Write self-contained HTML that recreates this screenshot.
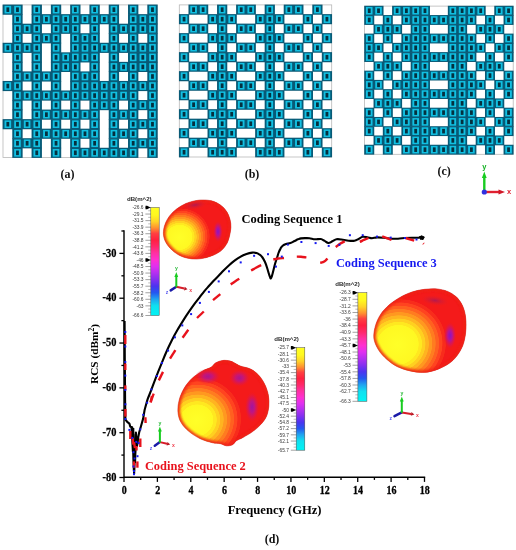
<!DOCTYPE html>
<html><head><meta charset="utf-8"><title>Figure</title>
<style>
html,body{margin:0;padding:0;background:#fff;}
body{width:516px;height:550px;overflow:hidden;}
svg{display:block;}
text{font-family:"Liberation Serif",serif;}
.pl{font-size:12px;fill:#111;}
.tk{font-size:11.5px;font-weight:bold;fill:#000;stroke:#000;stroke-width:0.3px;}
.axl{font-size:12.6px;font-weight:bold;fill:#000;}
.ayl{font-size:11.3px;font-weight:bold;fill:#000;}
.cs{font-size:12.45px;font-weight:bold;}
.cbl{font-family:"Liberation Sans",sans-serif;font-size:4.9px;fill:#3a3a3a;}
.cbt{font-family:"Liberation Sans",sans-serif;font-size:6.1px;fill:#2a2a2a;font-weight:bold;}
.tl{font-family:"Liberation Sans",sans-serif;font-size:5.1px;font-weight:bold;}
.tl2{font-family:"Liberation Sans",sans-serif;font-size:7.5px;font-weight:bold;}
</style></head><body>
<svg width="516" height="550" viewBox="0 0 516 550">
<defs>
<g id="cell"><rect x="-3.3" y="-3.8" width="6.6" height="7.6" fill="#12c0e2"/><rect x="-1.4" y="-2.3" width="2.8" height="4.6" fill="#04303f"/></g>
<linearGradient id="cb" x1="0" y1="0" x2="0" y2="1">
<stop offset="0" stop-color="#ffff20"/>
<stop offset="0.07" stop-color="#fff820"/>
<stop offset="0.13" stop-color="#ffd428"/>
<stop offset="0.19" stop-color="#ff9030"/>
<stop offset="0.24" stop-color="#ff4040"/>
<stop offset="0.3" stop-color="#ff2040"/>
<stop offset="0.36" stop-color="#ff2868"/>
<stop offset="0.42" stop-color="#ff30a0"/>
<stop offset="0.485" stop-color="#ff30d0"/>
<stop offset="0.546" stop-color="#e030f0"/>
<stop offset="0.606" stop-color="#b430f0"/>
<stop offset="0.667" stop-color="#8430f0"/>
<stop offset="0.728" stop-color="#4c34f0"/>
<stop offset="0.789" stop-color="#2458f0"/>
<stop offset="0.849" stop-color="#20a4f0"/>
<stop offset="0.91" stop-color="#10e0f0"/>
<stop offset="1" stop-color="#00f4f4"/>
</linearGradient>
<radialGradient id="hot1" gradientUnits="userSpaceOnUse" cx="179" cy="237.5" r="31" gradientTransform="rotate(-20 179 237.5) translate(179 237.5) scale(1 0.93) translate(-179 -237.5)">
<stop offset="0" stop-color="#ffff28"/>
<stop offset="0.430" stop-color="#fff822"/>
<stop offset="0.440" stop-color="#ffe820"/>
<stop offset="0.498" stop-color="#ffe820"/>
<stop offset="0.510" stop-color="#ffd020"/>
<stop offset="0.568" stop-color="#ffd020"/>
<stop offset="0.580" stop-color="#ffb420"/>
<stop offset="0.638" stop-color="#ffb420"/>
<stop offset="0.650" stop-color="#ff9820"/>
<stop offset="0.708" stop-color="#ff9820"/>
<stop offset="0.720" stop-color="#ff7c20"/>
<stop offset="0.778" stop-color="#ff7c20"/>
<stop offset="0.790" stop-color="#ff6020"/>
<stop offset="0.848" stop-color="#ff6020"/>
<stop offset="0.860" stop-color="#ff4420"/>
<stop offset="0.918" stop-color="#ff4420"/>
<stop offset="0.930" stop-color="#f82c1c"/>
<stop offset="0.988" stop-color="#f82c1c"/>
<stop offset="1.000" stop-color="#f41a1a"/>
</radialGradient>
<radialGradient id="hot2" gradientUnits="userSpaceOnUse" cx="196.5" cy="420.5" r="45" gradientTransform="rotate(-20 196.5 420.5) translate(196.5 420.5) scale(1 0.94) translate(-196.5 -420.5)">
<stop offset="0" stop-color="#ffff28"/>
<stop offset="0.370" stop-color="#fff822"/>
<stop offset="0.380" stop-color="#ffe820"/>
<stop offset="0.446" stop-color="#ffe820"/>
<stop offset="0.458" stop-color="#ffd020"/>
<stop offset="0.523" stop-color="#ffd020"/>
<stop offset="0.535" stop-color="#ffb420"/>
<stop offset="0.601" stop-color="#ffb420"/>
<stop offset="0.613" stop-color="#ff9820"/>
<stop offset="0.678" stop-color="#ff9820"/>
<stop offset="0.690" stop-color="#ff7c20"/>
<stop offset="0.755" stop-color="#ff7c20"/>
<stop offset="0.768" stop-color="#ff6020"/>
<stop offset="0.833" stop-color="#ff6020"/>
<stop offset="0.845" stop-color="#ff4420"/>
<stop offset="0.910" stop-color="#ff4420"/>
<stop offset="0.922" stop-color="#f82c1c"/>
<stop offset="0.988" stop-color="#f82c1c"/>
<stop offset="1.000" stop-color="#f41a1a"/>
</radialGradient>
<radialGradient id="hot3" gradientUnits="userSpaceOnUse" cx="397.5" cy="345" r="49" gradientTransform="rotate(-20 397.5 345) translate(397.5 345) scale(1 0.93) translate(-397.5 -345)">
<stop offset="0" stop-color="#ffff28"/>
<stop offset="0.430" stop-color="#fff822"/>
<stop offset="0.440" stop-color="#ffe820"/>
<stop offset="0.498" stop-color="#ffe820"/>
<stop offset="0.510" stop-color="#ffd020"/>
<stop offset="0.568" stop-color="#ffd020"/>
<stop offset="0.580" stop-color="#ffb420"/>
<stop offset="0.638" stop-color="#ffb420"/>
<stop offset="0.650" stop-color="#ff9820"/>
<stop offset="0.708" stop-color="#ff9820"/>
<stop offset="0.720" stop-color="#ff7c20"/>
<stop offset="0.778" stop-color="#ff7c20"/>
<stop offset="0.790" stop-color="#ff6020"/>
<stop offset="0.848" stop-color="#ff6020"/>
<stop offset="0.860" stop-color="#ff4420"/>
<stop offset="0.918" stop-color="#ff4420"/>
<stop offset="0.930" stop-color="#f82c1c"/>
<stop offset="0.988" stop-color="#f82c1c"/>
<stop offset="1.000" stop-color="#f41a1a"/>
</radialGradient>
<radialGradient id="dimple" cx="0.5" cy="0.5" r="0.5">
<stop offset="0" stop-color="#8c14c0"/>
<stop offset="0.35" stop-color="#b4149a"/>
<stop offset="0.7" stop-color="#dc1650" stop-opacity="0.7"/>
<stop offset="1" stop-color="#f41a1a" stop-opacity="0"/>
</radialGradient>
<radialGradient id="shade" cx="0.5" cy="0.5" r="0.5">
<stop offset="0" stop-color="#a01860" stop-opacity="0.75"/>
<stop offset="1" stop-color="#d82030" stop-opacity="0"/>
</radialGradient>
<filter id="bl" x="-10%" y="-10%" width="120%" height="120%"><feGaussianBlur stdDeviation="1.3"/></filter>
</defs>
<rect x="3.00" y="4.90" width="154.30" height="152.70" fill="#fff" stroke="#b8b8b8" stroke-width="0.8"/>
<rect x="2.65" y="4.60" width="19.99" height="10.14" fill="#085a76"/>
<rect x="31.58" y="4.60" width="10.34" height="10.14" fill="#085a76"/>
<rect x="50.87" y="4.60" width="10.34" height="10.14" fill="#085a76"/>
<rect x="70.16" y="4.60" width="10.34" height="10.14" fill="#085a76"/>
<rect x="89.44" y="4.60" width="10.34" height="10.14" fill="#085a76"/>
<rect x="108.73" y="4.60" width="10.34" height="10.14" fill="#085a76"/>
<rect x="128.02" y="4.60" width="10.34" height="10.14" fill="#085a76"/>
<rect x="147.31" y="4.60" width="10.34" height="10.14" fill="#085a76"/>
<rect x="12.29" y="14.14" width="10.34" height="10.14" fill="#085a76"/>
<rect x="31.58" y="14.14" width="87.49" height="10.14" fill="#085a76"/>
<rect x="128.02" y="14.14" width="29.63" height="10.14" fill="#085a76"/>
<rect x="12.29" y="23.69" width="29.63" height="10.14" fill="#085a76"/>
<rect x="50.87" y="23.69" width="29.63" height="10.14" fill="#085a76"/>
<rect x="89.44" y="23.69" width="10.34" height="10.14" fill="#085a76"/>
<rect x="108.73" y="23.69" width="48.92" height="10.14" fill="#085a76"/>
<rect x="12.29" y="33.23" width="10.34" height="10.14" fill="#085a76"/>
<rect x="31.58" y="33.23" width="29.63" height="10.14" fill="#085a76"/>
<rect x="70.16" y="33.23" width="29.63" height="10.14" fill="#085a76"/>
<rect x="108.73" y="33.23" width="10.34" height="10.14" fill="#085a76"/>
<rect x="128.02" y="33.23" width="10.34" height="10.14" fill="#085a76"/>
<rect x="147.31" y="33.23" width="10.34" height="10.14" fill="#085a76"/>
<rect x="2.65" y="42.77" width="39.28" height="10.14" fill="#085a76"/>
<rect x="50.87" y="42.77" width="10.34" height="10.14" fill="#085a76"/>
<rect x="70.16" y="42.77" width="87.49" height="10.14" fill="#085a76"/>
<rect x="12.29" y="52.32" width="10.34" height="10.14" fill="#085a76"/>
<rect x="31.58" y="52.32" width="10.34" height="10.14" fill="#085a76"/>
<rect x="50.87" y="52.32" width="48.92" height="10.14" fill="#085a76"/>
<rect x="108.73" y="52.32" width="10.34" height="10.14" fill="#085a76"/>
<rect x="128.02" y="52.32" width="29.63" height="10.14" fill="#085a76"/>
<rect x="12.29" y="61.86" width="10.34" height="10.14" fill="#085a76"/>
<rect x="31.58" y="61.86" width="10.34" height="10.14" fill="#085a76"/>
<rect x="50.87" y="61.86" width="29.63" height="10.14" fill="#085a76"/>
<rect x="89.44" y="61.86" width="10.34" height="10.14" fill="#085a76"/>
<rect x="108.73" y="61.86" width="48.92" height="10.14" fill="#085a76"/>
<rect x="12.29" y="71.41" width="48.92" height="10.14" fill="#085a76"/>
<rect x="70.16" y="71.41" width="29.63" height="10.14" fill="#085a76"/>
<rect x="108.73" y="71.41" width="10.34" height="10.14" fill="#085a76"/>
<rect x="128.02" y="71.41" width="10.34" height="10.14" fill="#085a76"/>
<rect x="147.31" y="71.41" width="10.34" height="10.14" fill="#085a76"/>
<rect x="2.65" y="80.95" width="19.99" height="10.14" fill="#085a76"/>
<rect x="31.58" y="80.95" width="10.34" height="10.14" fill="#085a76"/>
<rect x="50.87" y="80.95" width="10.34" height="10.14" fill="#085a76"/>
<rect x="70.16" y="80.95" width="87.49" height="10.14" fill="#085a76"/>
<rect x="12.29" y="90.49" width="126.07" height="10.14" fill="#085a76"/>
<rect x="147.31" y="90.49" width="10.34" height="10.14" fill="#085a76"/>
<rect x="12.29" y="100.04" width="10.34" height="10.14" fill="#085a76"/>
<rect x="31.58" y="100.04" width="10.34" height="10.14" fill="#085a76"/>
<rect x="50.87" y="100.04" width="10.34" height="10.14" fill="#085a76"/>
<rect x="70.16" y="100.04" width="10.34" height="10.14" fill="#085a76"/>
<rect x="89.44" y="100.04" width="29.63" height="10.14" fill="#085a76"/>
<rect x="128.02" y="100.04" width="29.63" height="10.14" fill="#085a76"/>
<rect x="12.29" y="109.58" width="10.34" height="10.14" fill="#085a76"/>
<rect x="31.58" y="109.58" width="68.21" height="10.14" fill="#085a76"/>
<rect x="108.73" y="109.58" width="29.63" height="10.14" fill="#085a76"/>
<rect x="147.31" y="109.58" width="10.34" height="10.14" fill="#085a76"/>
<rect x="2.65" y="119.12" width="39.28" height="10.14" fill="#085a76"/>
<rect x="50.87" y="119.12" width="10.34" height="10.14" fill="#085a76"/>
<rect x="70.16" y="119.12" width="10.34" height="10.14" fill="#085a76"/>
<rect x="89.44" y="119.12" width="10.34" height="10.14" fill="#085a76"/>
<rect x="108.73" y="119.12" width="10.34" height="10.14" fill="#085a76"/>
<rect x="128.02" y="119.12" width="29.63" height="10.14" fill="#085a76"/>
<rect x="12.29" y="128.67" width="10.34" height="10.14" fill="#085a76"/>
<rect x="31.58" y="128.67" width="68.21" height="10.14" fill="#085a76"/>
<rect x="108.73" y="128.67" width="29.63" height="10.14" fill="#085a76"/>
<rect x="147.31" y="128.67" width="10.34" height="10.14" fill="#085a76"/>
<rect x="12.29" y="138.21" width="29.63" height="10.14" fill="#085a76"/>
<rect x="50.87" y="138.21" width="10.34" height="10.14" fill="#085a76"/>
<rect x="70.16" y="138.21" width="10.34" height="10.14" fill="#085a76"/>
<rect x="89.44" y="138.21" width="10.34" height="10.14" fill="#085a76"/>
<rect x="108.73" y="138.21" width="10.34" height="10.14" fill="#085a76"/>
<rect x="128.02" y="138.21" width="29.63" height="10.14" fill="#085a76"/>
<rect x="12.29" y="147.76" width="10.34" height="10.14" fill="#085a76"/>
<rect x="31.58" y="147.76" width="10.34" height="10.14" fill="#085a76"/>
<rect x="50.87" y="147.76" width="10.34" height="10.14" fill="#085a76"/>
<rect x="70.16" y="147.76" width="68.21" height="10.14" fill="#085a76"/>
<rect x="147.31" y="147.76" width="10.34" height="10.14" fill="#085a76"/>
<use href="#cell" x="7.82" y="9.67"/>
<use href="#cell" x="17.47" y="9.67"/>
<use href="#cell" x="36.75" y="9.67"/>
<use href="#cell" x="56.04" y="9.67"/>
<use href="#cell" x="75.33" y="9.67"/>
<use href="#cell" x="94.62" y="9.67"/>
<use href="#cell" x="113.90" y="9.67"/>
<use href="#cell" x="133.19" y="9.67"/>
<use href="#cell" x="152.48" y="9.67"/>
<use href="#cell" x="17.47" y="19.22"/>
<use href="#cell" x="36.75" y="19.22"/>
<use href="#cell" x="46.40" y="19.22"/>
<use href="#cell" x="56.04" y="19.22"/>
<use href="#cell" x="65.68" y="19.22"/>
<use href="#cell" x="75.33" y="19.22"/>
<use href="#cell" x="84.97" y="19.22"/>
<use href="#cell" x="94.62" y="19.22"/>
<use href="#cell" x="104.26" y="19.22"/>
<use href="#cell" x="113.90" y="19.22"/>
<use href="#cell" x="133.19" y="19.22"/>
<use href="#cell" x="142.83" y="19.22"/>
<use href="#cell" x="152.48" y="19.22"/>
<use href="#cell" x="17.47" y="28.76"/>
<use href="#cell" x="27.11" y="28.76"/>
<use href="#cell" x="36.75" y="28.76"/>
<use href="#cell" x="56.04" y="28.76"/>
<use href="#cell" x="65.68" y="28.76"/>
<use href="#cell" x="75.33" y="28.76"/>
<use href="#cell" x="94.62" y="28.76"/>
<use href="#cell" x="113.90" y="28.76"/>
<use href="#cell" x="123.55" y="28.76"/>
<use href="#cell" x="133.19" y="28.76"/>
<use href="#cell" x="142.83" y="28.76"/>
<use href="#cell" x="152.48" y="28.76"/>
<use href="#cell" x="17.47" y="38.30"/>
<use href="#cell" x="36.75" y="38.30"/>
<use href="#cell" x="46.40" y="38.30"/>
<use href="#cell" x="56.04" y="38.30"/>
<use href="#cell" x="75.33" y="38.30"/>
<use href="#cell" x="84.97" y="38.30"/>
<use href="#cell" x="94.62" y="38.30"/>
<use href="#cell" x="113.90" y="38.30"/>
<use href="#cell" x="133.19" y="38.30"/>
<use href="#cell" x="152.48" y="38.30"/>
<use href="#cell" x="7.82" y="47.85"/>
<use href="#cell" x="17.47" y="47.85"/>
<use href="#cell" x="27.11" y="47.85"/>
<use href="#cell" x="36.75" y="47.85"/>
<use href="#cell" x="56.04" y="47.85"/>
<use href="#cell" x="75.33" y="47.85"/>
<use href="#cell" x="84.97" y="47.85"/>
<use href="#cell" x="94.62" y="47.85"/>
<use href="#cell" x="104.26" y="47.85"/>
<use href="#cell" x="113.90" y="47.85"/>
<use href="#cell" x="123.55" y="47.85"/>
<use href="#cell" x="133.19" y="47.85"/>
<use href="#cell" x="142.83" y="47.85"/>
<use href="#cell" x="152.48" y="47.85"/>
<use href="#cell" x="17.47" y="57.39"/>
<use href="#cell" x="36.75" y="57.39"/>
<use href="#cell" x="56.04" y="57.39"/>
<use href="#cell" x="65.68" y="57.39"/>
<use href="#cell" x="75.33" y="57.39"/>
<use href="#cell" x="84.97" y="57.39"/>
<use href="#cell" x="94.62" y="57.39"/>
<use href="#cell" x="113.90" y="57.39"/>
<use href="#cell" x="133.19" y="57.39"/>
<use href="#cell" x="142.83" y="57.39"/>
<use href="#cell" x="152.48" y="57.39"/>
<use href="#cell" x="17.47" y="66.93"/>
<use href="#cell" x="36.75" y="66.93"/>
<use href="#cell" x="56.04" y="66.93"/>
<use href="#cell" x="65.68" y="66.93"/>
<use href="#cell" x="75.33" y="66.93"/>
<use href="#cell" x="94.62" y="66.93"/>
<use href="#cell" x="113.90" y="66.93"/>
<use href="#cell" x="123.55" y="66.93"/>
<use href="#cell" x="133.19" y="66.93"/>
<use href="#cell" x="142.83" y="66.93"/>
<use href="#cell" x="152.48" y="66.93"/>
<use href="#cell" x="17.47" y="76.48"/>
<use href="#cell" x="27.11" y="76.48"/>
<use href="#cell" x="36.75" y="76.48"/>
<use href="#cell" x="46.40" y="76.48"/>
<use href="#cell" x="56.04" y="76.48"/>
<use href="#cell" x="75.33" y="76.48"/>
<use href="#cell" x="84.97" y="76.48"/>
<use href="#cell" x="94.62" y="76.48"/>
<use href="#cell" x="113.90" y="76.48"/>
<use href="#cell" x="133.19" y="76.48"/>
<use href="#cell" x="152.48" y="76.48"/>
<use href="#cell" x="7.82" y="86.02"/>
<use href="#cell" x="17.47" y="86.02"/>
<use href="#cell" x="36.75" y="86.02"/>
<use href="#cell" x="56.04" y="86.02"/>
<use href="#cell" x="75.33" y="86.02"/>
<use href="#cell" x="84.97" y="86.02"/>
<use href="#cell" x="94.62" y="86.02"/>
<use href="#cell" x="104.26" y="86.02"/>
<use href="#cell" x="113.90" y="86.02"/>
<use href="#cell" x="123.55" y="86.02"/>
<use href="#cell" x="133.19" y="86.02"/>
<use href="#cell" x="142.83" y="86.02"/>
<use href="#cell" x="152.48" y="86.02"/>
<use href="#cell" x="17.47" y="95.57"/>
<use href="#cell" x="27.11" y="95.57"/>
<use href="#cell" x="36.75" y="95.57"/>
<use href="#cell" x="46.40" y="95.57"/>
<use href="#cell" x="56.04" y="95.57"/>
<use href="#cell" x="65.68" y="95.57"/>
<use href="#cell" x="75.33" y="95.57"/>
<use href="#cell" x="84.97" y="95.57"/>
<use href="#cell" x="94.62" y="95.57"/>
<use href="#cell" x="104.26" y="95.57"/>
<use href="#cell" x="113.90" y="95.57"/>
<use href="#cell" x="123.55" y="95.57"/>
<use href="#cell" x="133.19" y="95.57"/>
<use href="#cell" x="152.48" y="95.57"/>
<use href="#cell" x="17.47" y="105.11"/>
<use href="#cell" x="36.75" y="105.11"/>
<use href="#cell" x="56.04" y="105.11"/>
<use href="#cell" x="75.33" y="105.11"/>
<use href="#cell" x="94.62" y="105.11"/>
<use href="#cell" x="104.26" y="105.11"/>
<use href="#cell" x="113.90" y="105.11"/>
<use href="#cell" x="133.19" y="105.11"/>
<use href="#cell" x="142.83" y="105.11"/>
<use href="#cell" x="152.48" y="105.11"/>
<use href="#cell" x="17.47" y="114.65"/>
<use href="#cell" x="36.75" y="114.65"/>
<use href="#cell" x="46.40" y="114.65"/>
<use href="#cell" x="56.04" y="114.65"/>
<use href="#cell" x="65.68" y="114.65"/>
<use href="#cell" x="75.33" y="114.65"/>
<use href="#cell" x="84.97" y="114.65"/>
<use href="#cell" x="94.62" y="114.65"/>
<use href="#cell" x="113.90" y="114.65"/>
<use href="#cell" x="123.55" y="114.65"/>
<use href="#cell" x="133.19" y="114.65"/>
<use href="#cell" x="152.48" y="114.65"/>
<use href="#cell" x="7.82" y="124.20"/>
<use href="#cell" x="17.47" y="124.20"/>
<use href="#cell" x="27.11" y="124.20"/>
<use href="#cell" x="36.75" y="124.20"/>
<use href="#cell" x="56.04" y="124.20"/>
<use href="#cell" x="75.33" y="124.20"/>
<use href="#cell" x="94.62" y="124.20"/>
<use href="#cell" x="113.90" y="124.20"/>
<use href="#cell" x="133.19" y="124.20"/>
<use href="#cell" x="142.83" y="124.20"/>
<use href="#cell" x="152.48" y="124.20"/>
<use href="#cell" x="17.47" y="133.74"/>
<use href="#cell" x="36.75" y="133.74"/>
<use href="#cell" x="46.40" y="133.74"/>
<use href="#cell" x="56.04" y="133.74"/>
<use href="#cell" x="65.68" y="133.74"/>
<use href="#cell" x="75.33" y="133.74"/>
<use href="#cell" x="84.97" y="133.74"/>
<use href="#cell" x="94.62" y="133.74"/>
<use href="#cell" x="113.90" y="133.74"/>
<use href="#cell" x="123.55" y="133.74"/>
<use href="#cell" x="133.19" y="133.74"/>
<use href="#cell" x="152.48" y="133.74"/>
<use href="#cell" x="17.47" y="143.28"/>
<use href="#cell" x="27.11" y="143.28"/>
<use href="#cell" x="36.75" y="143.28"/>
<use href="#cell" x="56.04" y="143.28"/>
<use href="#cell" x="75.33" y="143.28"/>
<use href="#cell" x="94.62" y="143.28"/>
<use href="#cell" x="113.90" y="143.28"/>
<use href="#cell" x="133.19" y="143.28"/>
<use href="#cell" x="142.83" y="143.28"/>
<use href="#cell" x="152.48" y="143.28"/>
<use href="#cell" x="17.47" y="152.83"/>
<use href="#cell" x="36.75" y="152.83"/>
<use href="#cell" x="56.04" y="152.83"/>
<use href="#cell" x="75.33" y="152.83"/>
<use href="#cell" x="84.97" y="152.83"/>
<use href="#cell" x="94.62" y="152.83"/>
<use href="#cell" x="104.26" y="152.83"/>
<use href="#cell" x="113.90" y="152.83"/>
<use href="#cell" x="123.55" y="152.83"/>
<use href="#cell" x="133.19" y="152.83"/>
<use href="#cell" x="152.48" y="152.83"/>
<rect x="179.30" y="4.90" width="152.40" height="152.10" fill="#fff" stroke="#b8b8b8" stroke-width="0.8"/>
<rect x="188.48" y="4.60" width="19.75" height="10.11" fill="#085a76"/>
<rect x="217.05" y="4.60" width="10.22" height="10.11" fill="#085a76"/>
<rect x="236.10" y="4.60" width="19.75" height="10.11" fill="#085a76"/>
<rect x="264.67" y="4.60" width="10.22" height="10.11" fill="#085a76"/>
<rect x="283.72" y="4.60" width="19.75" height="10.11" fill="#085a76"/>
<rect x="312.30" y="4.60" width="10.22" height="10.11" fill="#085a76"/>
<rect x="178.95" y="14.11" width="10.22" height="10.11" fill="#085a76"/>
<rect x="207.53" y="14.11" width="29.27" height="10.11" fill="#085a76"/>
<rect x="255.15" y="14.11" width="29.27" height="10.11" fill="#085a76"/>
<rect x="302.77" y="14.11" width="10.22" height="10.11" fill="#085a76"/>
<rect x="321.82" y="14.11" width="10.22" height="10.11" fill="#085a76"/>
<rect x="188.48" y="23.61" width="19.75" height="10.11" fill="#085a76"/>
<rect x="217.05" y="23.61" width="10.22" height="10.11" fill="#085a76"/>
<rect x="236.10" y="23.61" width="19.75" height="10.11" fill="#085a76"/>
<rect x="264.67" y="23.61" width="10.22" height="10.11" fill="#085a76"/>
<rect x="283.72" y="23.61" width="19.75" height="10.11" fill="#085a76"/>
<rect x="312.30" y="23.61" width="10.22" height="10.11" fill="#085a76"/>
<rect x="178.95" y="33.12" width="10.22" height="10.11" fill="#085a76"/>
<rect x="207.53" y="33.12" width="29.27" height="10.11" fill="#085a76"/>
<rect x="255.15" y="33.12" width="29.27" height="10.11" fill="#085a76"/>
<rect x="302.77" y="33.12" width="10.22" height="10.11" fill="#085a76"/>
<rect x="321.82" y="33.12" width="10.22" height="10.11" fill="#085a76"/>
<rect x="188.48" y="42.62" width="19.75" height="10.11" fill="#085a76"/>
<rect x="217.05" y="42.62" width="10.22" height="10.11" fill="#085a76"/>
<rect x="236.10" y="42.62" width="19.75" height="10.11" fill="#085a76"/>
<rect x="264.67" y="42.62" width="10.22" height="10.11" fill="#085a76"/>
<rect x="283.72" y="42.62" width="19.75" height="10.11" fill="#085a76"/>
<rect x="312.30" y="42.62" width="10.22" height="10.11" fill="#085a76"/>
<rect x="178.95" y="52.13" width="10.22" height="10.11" fill="#085a76"/>
<rect x="207.53" y="52.13" width="29.27" height="10.11" fill="#085a76"/>
<rect x="255.15" y="52.13" width="29.27" height="10.11" fill="#085a76"/>
<rect x="302.77" y="52.13" width="10.22" height="10.11" fill="#085a76"/>
<rect x="321.82" y="52.13" width="10.22" height="10.11" fill="#085a76"/>
<rect x="188.48" y="61.64" width="19.75" height="10.11" fill="#085a76"/>
<rect x="217.05" y="61.64" width="10.22" height="10.11" fill="#085a76"/>
<rect x="236.10" y="61.64" width="19.75" height="10.11" fill="#085a76"/>
<rect x="264.67" y="61.64" width="10.22" height="10.11" fill="#085a76"/>
<rect x="283.72" y="61.64" width="19.75" height="10.11" fill="#085a76"/>
<rect x="312.30" y="61.64" width="10.22" height="10.11" fill="#085a76"/>
<rect x="178.95" y="71.14" width="10.22" height="10.11" fill="#085a76"/>
<rect x="207.53" y="71.14" width="29.27" height="10.11" fill="#085a76"/>
<rect x="255.15" y="71.14" width="29.27" height="10.11" fill="#085a76"/>
<rect x="302.77" y="71.14" width="10.22" height="10.11" fill="#085a76"/>
<rect x="321.82" y="71.14" width="10.22" height="10.11" fill="#085a76"/>
<rect x="188.48" y="80.65" width="19.75" height="10.11" fill="#085a76"/>
<rect x="217.05" y="80.65" width="10.22" height="10.11" fill="#085a76"/>
<rect x="236.10" y="80.65" width="19.75" height="10.11" fill="#085a76"/>
<rect x="264.67" y="80.65" width="10.22" height="10.11" fill="#085a76"/>
<rect x="283.72" y="80.65" width="19.75" height="10.11" fill="#085a76"/>
<rect x="312.30" y="80.65" width="10.22" height="10.11" fill="#085a76"/>
<rect x="178.95" y="90.16" width="10.22" height="10.11" fill="#085a76"/>
<rect x="207.53" y="90.16" width="29.27" height="10.11" fill="#085a76"/>
<rect x="255.15" y="90.16" width="29.27" height="10.11" fill="#085a76"/>
<rect x="302.77" y="90.16" width="10.22" height="10.11" fill="#085a76"/>
<rect x="321.82" y="90.16" width="10.22" height="10.11" fill="#085a76"/>
<rect x="188.48" y="99.66" width="19.75" height="10.11" fill="#085a76"/>
<rect x="217.05" y="99.66" width="10.22" height="10.11" fill="#085a76"/>
<rect x="236.10" y="99.66" width="19.75" height="10.11" fill="#085a76"/>
<rect x="264.67" y="99.66" width="10.22" height="10.11" fill="#085a76"/>
<rect x="283.72" y="99.66" width="19.75" height="10.11" fill="#085a76"/>
<rect x="312.30" y="99.66" width="10.22" height="10.11" fill="#085a76"/>
<rect x="178.95" y="109.17" width="10.22" height="10.11" fill="#085a76"/>
<rect x="207.53" y="109.17" width="29.27" height="10.11" fill="#085a76"/>
<rect x="255.15" y="109.17" width="29.27" height="10.11" fill="#085a76"/>
<rect x="302.77" y="109.17" width="10.22" height="10.11" fill="#085a76"/>
<rect x="321.82" y="109.17" width="10.22" height="10.11" fill="#085a76"/>
<rect x="188.48" y="118.67" width="19.75" height="10.11" fill="#085a76"/>
<rect x="217.05" y="118.67" width="10.22" height="10.11" fill="#085a76"/>
<rect x="236.10" y="118.67" width="19.75" height="10.11" fill="#085a76"/>
<rect x="264.67" y="118.67" width="10.22" height="10.11" fill="#085a76"/>
<rect x="283.72" y="118.67" width="19.75" height="10.11" fill="#085a76"/>
<rect x="312.30" y="118.67" width="10.22" height="10.11" fill="#085a76"/>
<rect x="178.95" y="128.18" width="10.22" height="10.11" fill="#085a76"/>
<rect x="207.53" y="128.18" width="29.27" height="10.11" fill="#085a76"/>
<rect x="255.15" y="128.18" width="29.27" height="10.11" fill="#085a76"/>
<rect x="302.77" y="128.18" width="10.22" height="10.11" fill="#085a76"/>
<rect x="321.82" y="128.18" width="10.22" height="10.11" fill="#085a76"/>
<rect x="188.48" y="137.69" width="19.75" height="10.11" fill="#085a76"/>
<rect x="217.05" y="137.69" width="10.22" height="10.11" fill="#085a76"/>
<rect x="236.10" y="137.69" width="19.75" height="10.11" fill="#085a76"/>
<rect x="264.67" y="137.69" width="10.22" height="10.11" fill="#085a76"/>
<rect x="283.72" y="137.69" width="19.75" height="10.11" fill="#085a76"/>
<rect x="312.30" y="137.69" width="10.22" height="10.11" fill="#085a76"/>
<rect x="178.95" y="147.19" width="10.22" height="10.11" fill="#085a76"/>
<rect x="207.53" y="147.19" width="29.27" height="10.11" fill="#085a76"/>
<rect x="255.15" y="147.19" width="29.27" height="10.11" fill="#085a76"/>
<rect x="302.77" y="147.19" width="10.22" height="10.11" fill="#085a76"/>
<rect x="321.82" y="147.19" width="10.22" height="10.11" fill="#085a76"/>
<use href="#cell" x="193.59" y="9.65"/>
<use href="#cell" x="203.11" y="9.65"/>
<use href="#cell" x="222.16" y="9.65"/>
<use href="#cell" x="241.21" y="9.65"/>
<use href="#cell" x="250.74" y="9.65"/>
<use href="#cell" x="269.79" y="9.65"/>
<use href="#cell" x="288.84" y="9.65"/>
<use href="#cell" x="298.36" y="9.65"/>
<use href="#cell" x="317.41" y="9.65"/>
<use href="#cell" x="184.06" y="19.16"/>
<use href="#cell" x="212.64" y="19.16"/>
<use href="#cell" x="222.16" y="19.16"/>
<use href="#cell" x="231.69" y="19.16"/>
<use href="#cell" x="260.26" y="19.16"/>
<use href="#cell" x="269.79" y="19.16"/>
<use href="#cell" x="279.31" y="19.16"/>
<use href="#cell" x="307.89" y="19.16"/>
<use href="#cell" x="326.94" y="19.16"/>
<use href="#cell" x="193.59" y="28.67"/>
<use href="#cell" x="203.11" y="28.67"/>
<use href="#cell" x="222.16" y="28.67"/>
<use href="#cell" x="241.21" y="28.67"/>
<use href="#cell" x="250.74" y="28.67"/>
<use href="#cell" x="269.79" y="28.67"/>
<use href="#cell" x="288.84" y="28.67"/>
<use href="#cell" x="298.36" y="28.67"/>
<use href="#cell" x="317.41" y="28.67"/>
<use href="#cell" x="184.06" y="38.17"/>
<use href="#cell" x="212.64" y="38.17"/>
<use href="#cell" x="222.16" y="38.17"/>
<use href="#cell" x="231.69" y="38.17"/>
<use href="#cell" x="260.26" y="38.17"/>
<use href="#cell" x="269.79" y="38.17"/>
<use href="#cell" x="279.31" y="38.17"/>
<use href="#cell" x="307.89" y="38.17"/>
<use href="#cell" x="326.94" y="38.17"/>
<use href="#cell" x="193.59" y="47.68"/>
<use href="#cell" x="203.11" y="47.68"/>
<use href="#cell" x="222.16" y="47.68"/>
<use href="#cell" x="241.21" y="47.68"/>
<use href="#cell" x="250.74" y="47.68"/>
<use href="#cell" x="269.79" y="47.68"/>
<use href="#cell" x="288.84" y="47.68"/>
<use href="#cell" x="298.36" y="47.68"/>
<use href="#cell" x="317.41" y="47.68"/>
<use href="#cell" x="184.06" y="57.18"/>
<use href="#cell" x="212.64" y="57.18"/>
<use href="#cell" x="222.16" y="57.18"/>
<use href="#cell" x="231.69" y="57.18"/>
<use href="#cell" x="260.26" y="57.18"/>
<use href="#cell" x="269.79" y="57.18"/>
<use href="#cell" x="279.31" y="57.18"/>
<use href="#cell" x="307.89" y="57.18"/>
<use href="#cell" x="326.94" y="57.18"/>
<use href="#cell" x="193.59" y="66.69"/>
<use href="#cell" x="203.11" y="66.69"/>
<use href="#cell" x="222.16" y="66.69"/>
<use href="#cell" x="241.21" y="66.69"/>
<use href="#cell" x="250.74" y="66.69"/>
<use href="#cell" x="269.79" y="66.69"/>
<use href="#cell" x="288.84" y="66.69"/>
<use href="#cell" x="298.36" y="66.69"/>
<use href="#cell" x="317.41" y="66.69"/>
<use href="#cell" x="184.06" y="76.20"/>
<use href="#cell" x="212.64" y="76.20"/>
<use href="#cell" x="222.16" y="76.20"/>
<use href="#cell" x="231.69" y="76.20"/>
<use href="#cell" x="260.26" y="76.20"/>
<use href="#cell" x="269.79" y="76.20"/>
<use href="#cell" x="279.31" y="76.20"/>
<use href="#cell" x="307.89" y="76.20"/>
<use href="#cell" x="326.94" y="76.20"/>
<use href="#cell" x="193.59" y="85.70"/>
<use href="#cell" x="203.11" y="85.70"/>
<use href="#cell" x="222.16" y="85.70"/>
<use href="#cell" x="241.21" y="85.70"/>
<use href="#cell" x="250.74" y="85.70"/>
<use href="#cell" x="269.79" y="85.70"/>
<use href="#cell" x="288.84" y="85.70"/>
<use href="#cell" x="298.36" y="85.70"/>
<use href="#cell" x="317.41" y="85.70"/>
<use href="#cell" x="184.06" y="95.21"/>
<use href="#cell" x="212.64" y="95.21"/>
<use href="#cell" x="222.16" y="95.21"/>
<use href="#cell" x="231.69" y="95.21"/>
<use href="#cell" x="260.26" y="95.21"/>
<use href="#cell" x="269.79" y="95.21"/>
<use href="#cell" x="279.31" y="95.21"/>
<use href="#cell" x="307.89" y="95.21"/>
<use href="#cell" x="326.94" y="95.21"/>
<use href="#cell" x="193.59" y="104.72"/>
<use href="#cell" x="203.11" y="104.72"/>
<use href="#cell" x="222.16" y="104.72"/>
<use href="#cell" x="241.21" y="104.72"/>
<use href="#cell" x="250.74" y="104.72"/>
<use href="#cell" x="269.79" y="104.72"/>
<use href="#cell" x="288.84" y="104.72"/>
<use href="#cell" x="298.36" y="104.72"/>
<use href="#cell" x="317.41" y="104.72"/>
<use href="#cell" x="184.06" y="114.22"/>
<use href="#cell" x="212.64" y="114.22"/>
<use href="#cell" x="222.16" y="114.22"/>
<use href="#cell" x="231.69" y="114.22"/>
<use href="#cell" x="260.26" y="114.22"/>
<use href="#cell" x="269.79" y="114.22"/>
<use href="#cell" x="279.31" y="114.22"/>
<use href="#cell" x="307.89" y="114.22"/>
<use href="#cell" x="326.94" y="114.22"/>
<use href="#cell" x="193.59" y="123.73"/>
<use href="#cell" x="203.11" y="123.73"/>
<use href="#cell" x="222.16" y="123.73"/>
<use href="#cell" x="241.21" y="123.73"/>
<use href="#cell" x="250.74" y="123.73"/>
<use href="#cell" x="269.79" y="123.73"/>
<use href="#cell" x="288.84" y="123.73"/>
<use href="#cell" x="298.36" y="123.73"/>
<use href="#cell" x="317.41" y="123.73"/>
<use href="#cell" x="184.06" y="133.23"/>
<use href="#cell" x="212.64" y="133.23"/>
<use href="#cell" x="222.16" y="133.23"/>
<use href="#cell" x="231.69" y="133.23"/>
<use href="#cell" x="260.26" y="133.23"/>
<use href="#cell" x="269.79" y="133.23"/>
<use href="#cell" x="279.31" y="133.23"/>
<use href="#cell" x="307.89" y="133.23"/>
<use href="#cell" x="326.94" y="133.23"/>
<use href="#cell" x="193.59" y="142.74"/>
<use href="#cell" x="203.11" y="142.74"/>
<use href="#cell" x="222.16" y="142.74"/>
<use href="#cell" x="241.21" y="142.74"/>
<use href="#cell" x="250.74" y="142.74"/>
<use href="#cell" x="269.79" y="142.74"/>
<use href="#cell" x="288.84" y="142.74"/>
<use href="#cell" x="298.36" y="142.74"/>
<use href="#cell" x="317.41" y="142.74"/>
<use href="#cell" x="184.06" y="152.25"/>
<use href="#cell" x="212.64" y="152.25"/>
<use href="#cell" x="222.16" y="152.25"/>
<use href="#cell" x="231.69" y="152.25"/>
<use href="#cell" x="260.26" y="152.25"/>
<use href="#cell" x="269.79" y="152.25"/>
<use href="#cell" x="279.31" y="152.25"/>
<use href="#cell" x="307.89" y="152.25"/>
<use href="#cell" x="326.94" y="152.25"/>
<rect x="364.60" y="6.10" width="148.60" height="148.20" fill="#fff" stroke="#b8b8b8" stroke-width="0.8"/>
<rect x="364.25" y="5.80" width="19.28" height="9.86" fill="#085a76"/>
<rect x="392.11" y="5.80" width="37.85" height="9.86" fill="#085a76"/>
<rect x="447.84" y="5.80" width="37.85" height="9.86" fill="#085a76"/>
<rect x="494.28" y="5.80" width="19.28" height="9.86" fill="#085a76"/>
<rect x="364.25" y="15.06" width="9.99" height="9.86" fill="#085a76"/>
<rect x="382.82" y="15.06" width="9.99" height="9.86" fill="#085a76"/>
<rect x="401.40" y="15.06" width="75.00" height="9.86" fill="#085a76"/>
<rect x="484.99" y="15.06" width="9.99" height="9.86" fill="#085a76"/>
<rect x="503.56" y="15.06" width="9.99" height="9.86" fill="#085a76"/>
<rect x="373.54" y="24.32" width="28.56" height="9.86" fill="#085a76"/>
<rect x="410.69" y="24.32" width="19.28" height="9.86" fill="#085a76"/>
<rect x="447.84" y="24.32" width="19.28" height="9.86" fill="#085a76"/>
<rect x="475.70" y="24.32" width="28.56" height="9.86" fill="#085a76"/>
<rect x="364.25" y="33.59" width="9.99" height="9.86" fill="#085a76"/>
<rect x="382.82" y="33.59" width="9.99" height="9.86" fill="#085a76"/>
<rect x="401.40" y="33.59" width="75.00" height="9.86" fill="#085a76"/>
<rect x="484.99" y="33.59" width="9.99" height="9.86" fill="#085a76"/>
<rect x="503.56" y="33.59" width="9.99" height="9.86" fill="#085a76"/>
<rect x="364.25" y="42.85" width="19.28" height="9.86" fill="#085a76"/>
<rect x="392.11" y="42.85" width="37.85" height="9.86" fill="#085a76"/>
<rect x="447.84" y="42.85" width="37.85" height="9.86" fill="#085a76"/>
<rect x="494.28" y="42.85" width="19.28" height="9.86" fill="#085a76"/>
<rect x="364.25" y="52.11" width="9.99" height="9.86" fill="#085a76"/>
<rect x="382.82" y="52.11" width="9.99" height="9.86" fill="#085a76"/>
<rect x="401.40" y="52.11" width="75.00" height="9.86" fill="#085a76"/>
<rect x="484.99" y="52.11" width="9.99" height="9.86" fill="#085a76"/>
<rect x="503.56" y="52.11" width="9.99" height="9.86" fill="#085a76"/>
<rect x="373.54" y="61.38" width="28.56" height="9.86" fill="#085a76"/>
<rect x="410.69" y="61.38" width="19.28" height="9.86" fill="#085a76"/>
<rect x="447.84" y="61.38" width="19.28" height="9.86" fill="#085a76"/>
<rect x="475.70" y="61.38" width="28.56" height="9.86" fill="#085a76"/>
<rect x="364.25" y="70.64" width="9.99" height="9.86" fill="#085a76"/>
<rect x="382.82" y="70.64" width="9.99" height="9.86" fill="#085a76"/>
<rect x="401.40" y="70.64" width="75.00" height="9.86" fill="#085a76"/>
<rect x="484.99" y="70.64" width="9.99" height="9.86" fill="#085a76"/>
<rect x="503.56" y="70.64" width="9.99" height="9.86" fill="#085a76"/>
<rect x="364.25" y="79.90" width="19.28" height="9.86" fill="#085a76"/>
<rect x="392.11" y="79.90" width="37.85" height="9.86" fill="#085a76"/>
<rect x="447.84" y="79.90" width="37.85" height="9.86" fill="#085a76"/>
<rect x="494.28" y="79.90" width="19.28" height="9.86" fill="#085a76"/>
<rect x="364.25" y="89.16" width="9.99" height="9.86" fill="#085a76"/>
<rect x="382.82" y="89.16" width="9.99" height="9.86" fill="#085a76"/>
<rect x="401.40" y="89.16" width="75.00" height="9.86" fill="#085a76"/>
<rect x="484.99" y="89.16" width="9.99" height="9.86" fill="#085a76"/>
<rect x="503.56" y="89.16" width="9.99" height="9.86" fill="#085a76"/>
<rect x="373.54" y="98.43" width="28.56" height="9.86" fill="#085a76"/>
<rect x="410.69" y="98.43" width="19.28" height="9.86" fill="#085a76"/>
<rect x="447.84" y="98.43" width="19.28" height="9.86" fill="#085a76"/>
<rect x="475.70" y="98.43" width="28.56" height="9.86" fill="#085a76"/>
<rect x="364.25" y="107.69" width="9.99" height="9.86" fill="#085a76"/>
<rect x="382.82" y="107.69" width="9.99" height="9.86" fill="#085a76"/>
<rect x="401.40" y="107.69" width="75.00" height="9.86" fill="#085a76"/>
<rect x="484.99" y="107.69" width="9.99" height="9.86" fill="#085a76"/>
<rect x="503.56" y="107.69" width="9.99" height="9.86" fill="#085a76"/>
<rect x="364.25" y="116.95" width="19.28" height="9.86" fill="#085a76"/>
<rect x="392.11" y="116.95" width="37.85" height="9.86" fill="#085a76"/>
<rect x="447.84" y="116.95" width="37.85" height="9.86" fill="#085a76"/>
<rect x="494.28" y="116.95" width="19.28" height="9.86" fill="#085a76"/>
<rect x="364.25" y="126.21" width="9.99" height="9.86" fill="#085a76"/>
<rect x="382.82" y="126.21" width="9.99" height="9.86" fill="#085a76"/>
<rect x="401.40" y="126.21" width="75.00" height="9.86" fill="#085a76"/>
<rect x="484.99" y="126.21" width="9.99" height="9.86" fill="#085a76"/>
<rect x="503.56" y="126.21" width="9.99" height="9.86" fill="#085a76"/>
<rect x="373.54" y="135.47" width="28.56" height="9.86" fill="#085a76"/>
<rect x="410.69" y="135.47" width="19.28" height="9.86" fill="#085a76"/>
<rect x="447.84" y="135.47" width="19.28" height="9.86" fill="#085a76"/>
<rect x="475.70" y="135.47" width="28.56" height="9.86" fill="#085a76"/>
<rect x="364.25" y="144.74" width="9.99" height="9.86" fill="#085a76"/>
<rect x="382.82" y="144.74" width="9.99" height="9.86" fill="#085a76"/>
<rect x="401.40" y="144.74" width="75.00" height="9.86" fill="#085a76"/>
<rect x="484.99" y="144.74" width="9.99" height="9.86" fill="#085a76"/>
<rect x="503.56" y="144.74" width="9.99" height="9.86" fill="#085a76"/>
<use href="#cell" x="369.24" y="10.73"/>
<use href="#cell" x="378.53" y="10.73"/>
<use href="#cell" x="397.11" y="10.73"/>
<use href="#cell" x="406.39" y="10.73"/>
<use href="#cell" x="415.68" y="10.73"/>
<use href="#cell" x="424.97" y="10.73"/>
<use href="#cell" x="452.83" y="10.73"/>
<use href="#cell" x="462.12" y="10.73"/>
<use href="#cell" x="471.41" y="10.73"/>
<use href="#cell" x="480.69" y="10.73"/>
<use href="#cell" x="499.27" y="10.73"/>
<use href="#cell" x="508.56" y="10.73"/>
<use href="#cell" x="369.24" y="19.99"/>
<use href="#cell" x="387.82" y="19.99"/>
<use href="#cell" x="406.39" y="19.99"/>
<use href="#cell" x="415.68" y="19.99"/>
<use href="#cell" x="424.97" y="19.99"/>
<use href="#cell" x="434.26" y="19.99"/>
<use href="#cell" x="443.54" y="19.99"/>
<use href="#cell" x="452.83" y="19.99"/>
<use href="#cell" x="462.12" y="19.99"/>
<use href="#cell" x="471.41" y="19.99"/>
<use href="#cell" x="489.98" y="19.99"/>
<use href="#cell" x="508.56" y="19.99"/>
<use href="#cell" x="378.53" y="29.26"/>
<use href="#cell" x="387.82" y="29.26"/>
<use href="#cell" x="397.11" y="29.26"/>
<use href="#cell" x="415.68" y="29.26"/>
<use href="#cell" x="424.97" y="29.26"/>
<use href="#cell" x="452.83" y="29.26"/>
<use href="#cell" x="462.12" y="29.26"/>
<use href="#cell" x="480.69" y="29.26"/>
<use href="#cell" x="489.98" y="29.26"/>
<use href="#cell" x="499.27" y="29.26"/>
<use href="#cell" x="369.24" y="38.52"/>
<use href="#cell" x="387.82" y="38.52"/>
<use href="#cell" x="406.39" y="38.52"/>
<use href="#cell" x="415.68" y="38.52"/>
<use href="#cell" x="424.97" y="38.52"/>
<use href="#cell" x="434.26" y="38.52"/>
<use href="#cell" x="443.54" y="38.52"/>
<use href="#cell" x="452.83" y="38.52"/>
<use href="#cell" x="462.12" y="38.52"/>
<use href="#cell" x="471.41" y="38.52"/>
<use href="#cell" x="489.98" y="38.52"/>
<use href="#cell" x="508.56" y="38.52"/>
<use href="#cell" x="369.24" y="47.78"/>
<use href="#cell" x="378.53" y="47.78"/>
<use href="#cell" x="397.11" y="47.78"/>
<use href="#cell" x="406.39" y="47.78"/>
<use href="#cell" x="415.68" y="47.78"/>
<use href="#cell" x="424.97" y="47.78"/>
<use href="#cell" x="452.83" y="47.78"/>
<use href="#cell" x="462.12" y="47.78"/>
<use href="#cell" x="471.41" y="47.78"/>
<use href="#cell" x="480.69" y="47.78"/>
<use href="#cell" x="499.27" y="47.78"/>
<use href="#cell" x="508.56" y="47.78"/>
<use href="#cell" x="369.24" y="57.04"/>
<use href="#cell" x="387.82" y="57.04"/>
<use href="#cell" x="406.39" y="57.04"/>
<use href="#cell" x="415.68" y="57.04"/>
<use href="#cell" x="424.97" y="57.04"/>
<use href="#cell" x="434.26" y="57.04"/>
<use href="#cell" x="443.54" y="57.04"/>
<use href="#cell" x="452.83" y="57.04"/>
<use href="#cell" x="462.12" y="57.04"/>
<use href="#cell" x="471.41" y="57.04"/>
<use href="#cell" x="489.98" y="57.04"/>
<use href="#cell" x="508.56" y="57.04"/>
<use href="#cell" x="378.53" y="66.31"/>
<use href="#cell" x="387.82" y="66.31"/>
<use href="#cell" x="397.11" y="66.31"/>
<use href="#cell" x="415.68" y="66.31"/>
<use href="#cell" x="424.97" y="66.31"/>
<use href="#cell" x="452.83" y="66.31"/>
<use href="#cell" x="462.12" y="66.31"/>
<use href="#cell" x="480.69" y="66.31"/>
<use href="#cell" x="489.98" y="66.31"/>
<use href="#cell" x="499.27" y="66.31"/>
<use href="#cell" x="369.24" y="75.57"/>
<use href="#cell" x="387.82" y="75.57"/>
<use href="#cell" x="406.39" y="75.57"/>
<use href="#cell" x="415.68" y="75.57"/>
<use href="#cell" x="424.97" y="75.57"/>
<use href="#cell" x="434.26" y="75.57"/>
<use href="#cell" x="443.54" y="75.57"/>
<use href="#cell" x="452.83" y="75.57"/>
<use href="#cell" x="462.12" y="75.57"/>
<use href="#cell" x="471.41" y="75.57"/>
<use href="#cell" x="489.98" y="75.57"/>
<use href="#cell" x="508.56" y="75.57"/>
<use href="#cell" x="369.24" y="84.83"/>
<use href="#cell" x="378.53" y="84.83"/>
<use href="#cell" x="397.11" y="84.83"/>
<use href="#cell" x="406.39" y="84.83"/>
<use href="#cell" x="415.68" y="84.83"/>
<use href="#cell" x="424.97" y="84.83"/>
<use href="#cell" x="452.83" y="84.83"/>
<use href="#cell" x="462.12" y="84.83"/>
<use href="#cell" x="471.41" y="84.83"/>
<use href="#cell" x="480.69" y="84.83"/>
<use href="#cell" x="499.27" y="84.83"/>
<use href="#cell" x="508.56" y="84.83"/>
<use href="#cell" x="369.24" y="94.09"/>
<use href="#cell" x="387.82" y="94.09"/>
<use href="#cell" x="406.39" y="94.09"/>
<use href="#cell" x="415.68" y="94.09"/>
<use href="#cell" x="424.97" y="94.09"/>
<use href="#cell" x="434.26" y="94.09"/>
<use href="#cell" x="443.54" y="94.09"/>
<use href="#cell" x="452.83" y="94.09"/>
<use href="#cell" x="462.12" y="94.09"/>
<use href="#cell" x="471.41" y="94.09"/>
<use href="#cell" x="489.98" y="94.09"/>
<use href="#cell" x="508.56" y="94.09"/>
<use href="#cell" x="378.53" y="103.36"/>
<use href="#cell" x="387.82" y="103.36"/>
<use href="#cell" x="397.11" y="103.36"/>
<use href="#cell" x="415.68" y="103.36"/>
<use href="#cell" x="424.97" y="103.36"/>
<use href="#cell" x="452.83" y="103.36"/>
<use href="#cell" x="462.12" y="103.36"/>
<use href="#cell" x="480.69" y="103.36"/>
<use href="#cell" x="489.98" y="103.36"/>
<use href="#cell" x="499.27" y="103.36"/>
<use href="#cell" x="369.24" y="112.62"/>
<use href="#cell" x="387.82" y="112.62"/>
<use href="#cell" x="406.39" y="112.62"/>
<use href="#cell" x="415.68" y="112.62"/>
<use href="#cell" x="424.97" y="112.62"/>
<use href="#cell" x="434.26" y="112.62"/>
<use href="#cell" x="443.54" y="112.62"/>
<use href="#cell" x="452.83" y="112.62"/>
<use href="#cell" x="462.12" y="112.62"/>
<use href="#cell" x="471.41" y="112.62"/>
<use href="#cell" x="489.98" y="112.62"/>
<use href="#cell" x="508.56" y="112.62"/>
<use href="#cell" x="369.24" y="121.88"/>
<use href="#cell" x="378.53" y="121.88"/>
<use href="#cell" x="397.11" y="121.88"/>
<use href="#cell" x="406.39" y="121.88"/>
<use href="#cell" x="415.68" y="121.88"/>
<use href="#cell" x="424.97" y="121.88"/>
<use href="#cell" x="452.83" y="121.88"/>
<use href="#cell" x="462.12" y="121.88"/>
<use href="#cell" x="471.41" y="121.88"/>
<use href="#cell" x="480.69" y="121.88"/>
<use href="#cell" x="499.27" y="121.88"/>
<use href="#cell" x="508.56" y="121.88"/>
<use href="#cell" x="369.24" y="131.14"/>
<use href="#cell" x="387.82" y="131.14"/>
<use href="#cell" x="406.39" y="131.14"/>
<use href="#cell" x="415.68" y="131.14"/>
<use href="#cell" x="424.97" y="131.14"/>
<use href="#cell" x="434.26" y="131.14"/>
<use href="#cell" x="443.54" y="131.14"/>
<use href="#cell" x="452.83" y="131.14"/>
<use href="#cell" x="462.12" y="131.14"/>
<use href="#cell" x="471.41" y="131.14"/>
<use href="#cell" x="489.98" y="131.14"/>
<use href="#cell" x="508.56" y="131.14"/>
<use href="#cell" x="378.53" y="140.41"/>
<use href="#cell" x="387.82" y="140.41"/>
<use href="#cell" x="397.11" y="140.41"/>
<use href="#cell" x="415.68" y="140.41"/>
<use href="#cell" x="424.97" y="140.41"/>
<use href="#cell" x="452.83" y="140.41"/>
<use href="#cell" x="462.12" y="140.41"/>
<use href="#cell" x="480.69" y="140.41"/>
<use href="#cell" x="489.98" y="140.41"/>
<use href="#cell" x="499.27" y="140.41"/>
<use href="#cell" x="369.24" y="149.67"/>
<use href="#cell" x="387.82" y="149.67"/>
<use href="#cell" x="406.39" y="149.67"/>
<use href="#cell" x="415.68" y="149.67"/>
<use href="#cell" x="424.97" y="149.67"/>
<use href="#cell" x="434.26" y="149.67"/>
<use href="#cell" x="443.54" y="149.67"/>
<use href="#cell" x="452.83" y="149.67"/>
<use href="#cell" x="462.12" y="149.67"/>
<use href="#cell" x="471.41" y="149.67"/>
<use href="#cell" x="489.98" y="149.67"/>
<use href="#cell" x="508.56" y="149.67"/>
<text x="67.4" y="177.5" text-anchor="middle" class="pl" font-weight="bold">(a)</text>
<text x="252" y="177.5" text-anchor="middle" class="pl" font-weight="bold">(b)</text>
<text x="444.2" y="174.9" text-anchor="middle" class="pl" font-weight="bold">(c)</text>
<text x="272" y="543.3" text-anchor="middle" class="pl" font-weight="bold">(d)</text>
<line x1="484.3" y1="192" x2="484.3" y2="176" stroke="#18cc20" stroke-width="2.4"/><path d="M484.3 171.5 l-2.4 6.5 h4.8z" fill="#18cc20"/>
<line x1="484.3" y1="192" x2="500" y2="192" stroke="#e02030" stroke-width="2.4"/><path d="M505 192 l-6.5 -2.4 v4.8z" fill="#d01828"/>
<circle cx="484.3" cy="192" r="2.6" fill="#3030e0"/>
<text x="484.3" y="168.5" text-anchor="middle" class="tl2" fill="#10b020">y</text>
<text x="507" y="194.3" class="tl2" fill="#e02030">x</text>
<path d="M124.0 230.3 V477.3 H425.2" fill="none" stroke="#000" stroke-width="1.4"/>
<line x1="124.00" y1="477.3" x2="124.00" y2="481.90000000000003" stroke="#000" stroke-width="1.3"/>
<text transform="translate(124.30 494.2) scale(0.87 1)" text-anchor="middle" class="tk">0</text>
<line x1="140.69" y1="477.3" x2="140.69" y2="479.90000000000003" stroke="#000" stroke-width="1.3"/>
<line x1="157.39" y1="477.3" x2="157.39" y2="481.90000000000003" stroke="#000" stroke-width="1.3"/>
<text transform="translate(157.69 494.2) scale(0.87 1)" text-anchor="middle" class="tk">2</text>
<line x1="174.08" y1="477.3" x2="174.08" y2="479.90000000000003" stroke="#000" stroke-width="1.3"/>
<line x1="190.78" y1="477.3" x2="190.78" y2="481.90000000000003" stroke="#000" stroke-width="1.3"/>
<text transform="translate(191.08 494.2) scale(0.87 1)" text-anchor="middle" class="tk">4</text>
<line x1="207.47" y1="477.3" x2="207.47" y2="479.90000000000003" stroke="#000" stroke-width="1.3"/>
<line x1="224.16" y1="477.3" x2="224.16" y2="481.90000000000003" stroke="#000" stroke-width="1.3"/>
<text transform="translate(224.46 494.2) scale(0.87 1)" text-anchor="middle" class="tk">6</text>
<line x1="240.86" y1="477.3" x2="240.86" y2="479.90000000000003" stroke="#000" stroke-width="1.3"/>
<line x1="257.55" y1="477.3" x2="257.55" y2="481.90000000000003" stroke="#000" stroke-width="1.3"/>
<text transform="translate(257.85 494.2) scale(0.87 1)" text-anchor="middle" class="tk">8</text>
<line x1="274.25" y1="477.3" x2="274.25" y2="479.90000000000003" stroke="#000" stroke-width="1.3"/>
<line x1="290.94" y1="477.3" x2="290.94" y2="481.90000000000003" stroke="#000" stroke-width="1.3"/>
<text transform="translate(291.24 494.2) scale(0.87 1)" text-anchor="middle" class="tk">10</text>
<line x1="307.63" y1="477.3" x2="307.63" y2="479.90000000000003" stroke="#000" stroke-width="1.3"/>
<line x1="324.33" y1="477.3" x2="324.33" y2="481.90000000000003" stroke="#000" stroke-width="1.3"/>
<text transform="translate(324.63 494.2) scale(0.87 1)" text-anchor="middle" class="tk">12</text>
<line x1="341.02" y1="477.3" x2="341.02" y2="479.90000000000003" stroke="#000" stroke-width="1.3"/>
<line x1="357.72" y1="477.3" x2="357.72" y2="481.90000000000003" stroke="#000" stroke-width="1.3"/>
<text transform="translate(358.02 494.2) scale(0.87 1)" text-anchor="middle" class="tk">14</text>
<line x1="374.41" y1="477.3" x2="374.41" y2="479.90000000000003" stroke="#000" stroke-width="1.3"/>
<line x1="391.10" y1="477.3" x2="391.10" y2="481.90000000000003" stroke="#000" stroke-width="1.3"/>
<text transform="translate(391.40 494.2) scale(0.87 1)" text-anchor="middle" class="tk">16</text>
<line x1="407.80" y1="477.3" x2="407.80" y2="479.90000000000003" stroke="#000" stroke-width="1.3"/>
<line x1="424.49" y1="477.3" x2="424.49" y2="481.90000000000003" stroke="#000" stroke-width="1.3"/>
<text transform="translate(424.79 494.2) scale(0.87 1)" text-anchor="middle" class="tk">18</text>
<line x1="124.0" y1="230.99" x2="121.4" y2="230.99" stroke="#000" stroke-width="1.3"/>
<line x1="124.0" y1="253.40" x2="119.4" y2="253.40" stroke="#000" stroke-width="1.3"/>
<text transform="translate(116.40 256.60) scale(0.9 1)" text-anchor="end" class="tk">-30</text>
<line x1="124.0" y1="275.81" x2="121.4" y2="275.81" stroke="#000" stroke-width="1.3"/>
<line x1="124.0" y1="298.22" x2="119.4" y2="298.22" stroke="#000" stroke-width="1.3"/>
<text transform="translate(116.40 301.42) scale(0.9 1)" text-anchor="end" class="tk">-40</text>
<line x1="124.0" y1="320.63" x2="121.4" y2="320.63" stroke="#000" stroke-width="1.3"/>
<line x1="124.0" y1="343.04" x2="119.4" y2="343.04" stroke="#000" stroke-width="1.3"/>
<text transform="translate(116.40 346.24) scale(0.9 1)" text-anchor="end" class="tk">-50</text>
<line x1="124.0" y1="365.45" x2="121.4" y2="365.45" stroke="#000" stroke-width="1.3"/>
<line x1="124.0" y1="387.86" x2="119.4" y2="387.86" stroke="#000" stroke-width="1.3"/>
<text transform="translate(116.40 391.06) scale(0.9 1)" text-anchor="end" class="tk">-60</text>
<line x1="124.0" y1="410.27" x2="121.4" y2="410.27" stroke="#000" stroke-width="1.3"/>
<line x1="124.0" y1="432.68" x2="119.4" y2="432.68" stroke="#000" stroke-width="1.3"/>
<text transform="translate(116.40 435.88) scale(0.9 1)" text-anchor="end" class="tk">-70</text>
<line x1="124.0" y1="455.09" x2="121.4" y2="455.09" stroke="#000" stroke-width="1.3"/>
<line x1="124.0" y1="477.50" x2="119.4" y2="477.50" stroke="#000" stroke-width="1.3"/>
<text transform="translate(116.40 480.70) scale(0.9 1)" text-anchor="end" class="tk">-80</text>
<text x="274.6" y="513.7" text-anchor="middle" class="axl">Frequency (GHz)</text>
<text transform="translate(98 354) rotate(-90)" text-anchor="middle" class="ayl">RCS (dBm<tspan dy="-4" font-size="7.5">2</tspan><tspan dy="4">)</tspan></text>
<g>
<clipPath id="cp1"><path d="M163.4 233.8 C163.3 230.8 163.9 227.4 165.0 224.5 C166.0 221.5 167.7 218.5 169.6 215.9 C171.6 213.3 173.9 211.0 176.6 209.0 C179.3 206.9 182.8 204.9 185.9 203.5 C189.0 202.2 192.1 201.3 195.2 200.7 C198.3 200.1 201.4 199.8 204.5 200.0 C207.6 200.1 211.0 200.5 213.8 201.5 C216.7 202.5 219.4 204.1 221.6 205.9 C223.8 207.6 225.6 209.7 227.0 212.1 C228.4 214.4 229.4 217.2 230.1 219.8 C230.7 222.4 231.0 224.7 230.9 227.6 C230.7 230.4 230.1 234.0 229.3 236.9 C228.5 239.7 227.8 242.2 226.2 244.6 C224.7 247.1 222.6 249.7 220.0 251.6 C217.4 253.5 213.8 255.1 210.7 256.2 C207.6 257.4 204.5 258.1 201.4 258.6 C198.3 259.0 195.5 259.3 192.1 258.9 C188.7 258.5 184.6 257.7 181.3 256.2 C177.9 254.8 174.5 252.4 172.0 250.0 C169.4 247.7 167.2 245.0 165.8 242.3 C164.3 239.6 163.6 236.7 163.4 233.8z"/></clipPath>
<path d="M163.4 233.8 C163.3 230.8 163.9 227.4 165.0 224.5 C166.0 221.5 167.7 218.5 169.6 215.9 C171.6 213.3 173.9 211.0 176.6 209.0 C179.3 206.9 182.8 204.9 185.9 203.5 C189.0 202.2 192.1 201.3 195.2 200.7 C198.3 200.1 201.4 199.8 204.5 200.0 C207.6 200.1 211.0 200.5 213.8 201.5 C216.7 202.5 219.4 204.1 221.6 205.9 C223.8 207.6 225.6 209.7 227.0 212.1 C228.4 214.4 229.4 217.2 230.1 219.8 C230.7 222.4 231.0 224.7 230.9 227.6 C230.7 230.4 230.1 234.0 229.3 236.9 C228.5 239.7 227.8 242.2 226.2 244.6 C224.7 247.1 222.6 249.7 220.0 251.6 C217.4 253.5 213.8 255.1 210.7 256.2 C207.6 257.4 204.5 258.1 201.4 258.6 C198.3 259.0 195.5 259.3 192.1 258.9 C188.7 258.5 184.6 257.7 181.3 256.2 C177.9 254.8 174.5 252.4 172.0 250.0 C169.4 247.7 167.2 245.0 165.8 242.3 C164.3 239.6 163.6 236.7 163.4 233.8z" fill="url(#hot1)" stroke="#c01818" stroke-width="0.5"/>
<g clip-path="url(#cp1)"><path d="M163.4 233.8 C163.3 230.8 163.9 227.4 165.0 224.5 C166.0 221.5 167.7 218.5 169.6 215.9 C171.6 213.3 173.9 211.0 176.6 209.0 C179.3 206.9 182.8 204.9 185.9 203.5 C189.0 202.2 192.1 201.3 195.2 200.7 C198.3 200.1 201.4 199.8 204.5 200.0 C207.6 200.1 211.0 200.5 213.8 201.5 C216.7 202.5 219.4 204.1 221.6 205.9 C223.8 207.6 225.6 209.7 227.0 212.1 C228.4 214.4 229.4 217.2 230.1 219.8 C230.7 222.4 231.0 224.7 230.9 227.6 C230.7 230.4 230.1 234.0 229.3 236.9 C228.5 239.7 227.8 242.2 226.2 244.6 C224.7 247.1 222.6 249.7 220.0 251.6 C217.4 253.5 213.8 255.1 210.7 256.2 C207.6 257.4 204.5 258.1 201.4 258.6 C198.3 259.0 195.5 259.3 192.1 258.9 C188.7 258.5 184.6 257.7 181.3 256.2 C177.9 254.8 174.5 252.4 172.0 250.0 C169.4 247.7 167.2 245.0 165.8 242.3 C164.3 239.6 163.6 236.7 163.4 233.8z" fill="none" stroke="#ee2414" stroke-width="4.5" filter="url(#bl)" opacity="0.85"/></g>
<ellipse cx="218" cy="231.5" rx="5" ry="11" fill="url(#dimple)"/>
<ellipse cx="195" cy="205" rx="12" ry="4.5" fill="url(#shade)" transform="rotate(-8 195 205)"/>
</g>
<g>
<clipPath id="cp2"><path d="M178.0 412.5 C177.7 408.8 178.0 404.4 179.1 400.4 C180.1 396.4 181.9 392.0 184.1 388.3 C186.3 384.6 189.1 381.1 192.2 378.2 C195.2 375.4 199.0 373.0 202.2 371.2 C205.4 369.3 209.1 368.5 211.3 367.1 C213.5 365.8 213.5 364.2 215.3 363.1 C217.2 362.0 219.9 360.8 222.4 360.5 C224.9 360.1 228.1 360.5 230.5 361.1 C232.8 361.7 234.8 363.3 236.5 364.1 C238.2 364.9 238.2 365.3 240.5 366.1 C242.9 367.0 247.6 367.6 250.6 369.1 C253.7 370.6 256.3 372.7 258.7 375.2 C261.0 377.7 263.1 380.9 264.7 384.3 C266.4 387.6 267.7 391.7 268.4 395.3 C269.0 399.0 269.1 402.9 268.8 406.4 C268.4 410.0 267.7 413.5 266.4 416.5 C265.0 419.5 263.0 422.1 260.7 424.6 C258.4 427.1 255.7 429.5 252.6 431.6 C249.6 433.8 245.3 436.2 242.6 437.7 C239.9 439.2 238.2 439.5 236.5 440.7 C234.8 441.9 234.2 443.9 232.5 444.7 C230.8 445.6 228.5 445.9 226.4 445.8 C224.4 445.6 222.7 444.2 220.4 443.7 C218.0 443.2 215.7 443.6 212.3 442.7 C209.0 441.9 204.1 440.5 200.2 438.7 C196.4 436.8 192.3 434.3 189.1 431.6 C185.9 428.9 182.9 425.8 181.1 422.6 C179.2 419.4 178.4 416.2 178.0 412.5z"/></clipPath>
<path d="M178.0 412.5 C177.7 408.8 178.0 404.4 179.1 400.4 C180.1 396.4 181.9 392.0 184.1 388.3 C186.3 384.6 189.1 381.1 192.2 378.2 C195.2 375.4 199.0 373.0 202.2 371.2 C205.4 369.3 209.1 368.5 211.3 367.1 C213.5 365.8 213.5 364.2 215.3 363.1 C217.2 362.0 219.9 360.8 222.4 360.5 C224.9 360.1 228.1 360.5 230.5 361.1 C232.8 361.7 234.8 363.3 236.5 364.1 C238.2 364.9 238.2 365.3 240.5 366.1 C242.9 367.0 247.6 367.6 250.6 369.1 C253.7 370.6 256.3 372.7 258.7 375.2 C261.0 377.7 263.1 380.9 264.7 384.3 C266.4 387.6 267.7 391.7 268.4 395.3 C269.0 399.0 269.1 402.9 268.8 406.4 C268.4 410.0 267.7 413.5 266.4 416.5 C265.0 419.5 263.0 422.1 260.7 424.6 C258.4 427.1 255.7 429.5 252.6 431.6 C249.6 433.8 245.3 436.2 242.6 437.7 C239.9 439.2 238.2 439.5 236.5 440.7 C234.8 441.9 234.2 443.9 232.5 444.7 C230.8 445.6 228.5 445.9 226.4 445.8 C224.4 445.6 222.7 444.2 220.4 443.7 C218.0 443.2 215.7 443.6 212.3 442.7 C209.0 441.9 204.1 440.5 200.2 438.7 C196.4 436.8 192.3 434.3 189.1 431.6 C185.9 428.9 182.9 425.8 181.1 422.6 C179.2 419.4 178.4 416.2 178.0 412.5z" fill="url(#hot2)" stroke="#c01818" stroke-width="0.5"/>
<g clip-path="url(#cp2)"><path d="M178.0 412.5 C177.7 408.8 178.0 404.4 179.1 400.4 C180.1 396.4 181.9 392.0 184.1 388.3 C186.3 384.6 189.1 381.1 192.2 378.2 C195.2 375.4 199.0 373.0 202.2 371.2 C205.4 369.3 209.1 368.5 211.3 367.1 C213.5 365.8 213.5 364.2 215.3 363.1 C217.2 362.0 219.9 360.8 222.4 360.5 C224.9 360.1 228.1 360.5 230.5 361.1 C232.8 361.7 234.8 363.3 236.5 364.1 C238.2 364.9 238.2 365.3 240.5 366.1 C242.9 367.0 247.6 367.6 250.6 369.1 C253.7 370.6 256.3 372.7 258.7 375.2 C261.0 377.7 263.1 380.9 264.7 384.3 C266.4 387.6 267.7 391.7 268.4 395.3 C269.0 399.0 269.1 402.9 268.8 406.4 C268.4 410.0 267.7 413.5 266.4 416.5 C265.0 419.5 263.0 422.1 260.7 424.6 C258.4 427.1 255.7 429.5 252.6 431.6 C249.6 433.8 245.3 436.2 242.6 437.7 C239.9 439.2 238.2 439.5 236.5 440.7 C234.8 441.9 234.2 443.9 232.5 444.7 C230.8 445.6 228.5 445.9 226.4 445.8 C224.4 445.6 222.7 444.2 220.4 443.7 C218.0 443.2 215.7 443.6 212.3 442.7 C209.0 441.9 204.1 440.5 200.2 438.7 C196.4 436.8 192.3 434.3 189.1 431.6 C185.9 428.9 182.9 425.8 181.1 422.6 C179.2 419.4 178.4 416.2 178.0 412.5z" fill="none" stroke="#ee2414" stroke-width="4.5" filter="url(#bl)" opacity="0.85"/></g>
<ellipse cx="252" cy="407" rx="7.5" ry="16" fill="url(#dimple)" opacity="0.8"/>
<ellipse cx="208" cy="376.5" rx="13" ry="8" fill="url(#dimple)" opacity="0.7"/>
<ellipse cx="239.5" cy="378" rx="11" ry="9" fill="url(#dimple)" opacity="0.7"/>
</g>
<g>
<clipPath id="cp3"><path d="M373.9 338.5 C373.4 334.5 374.3 329.9 375.4 325.9 C376.5 321.9 378.4 317.9 380.6 314.4 C382.9 310.9 385.9 307.8 389.0 305.0 C392.2 302.2 395.6 299.9 399.5 297.7 C403.3 295.5 407.8 293.4 412.0 292.0 C416.2 290.6 420.4 289.8 424.6 289.3 C428.8 288.8 433.3 288.6 437.1 288.9 C441.0 289.3 444.5 290.1 447.6 291.4 C450.7 292.7 453.5 294.4 456.0 296.6 C458.4 298.9 460.7 301.9 462.2 305.0 C463.8 308.2 464.7 311.6 465.4 315.5 C466.0 319.3 466.2 323.8 466.0 328.0 C465.8 332.2 465.3 336.7 464.3 340.6 C463.4 344.4 462.1 347.7 460.1 351.0 C458.2 354.4 455.6 357.8 452.8 360.5 C450.0 363.1 446.7 365.0 443.4 366.7 C440.1 368.5 436.4 370.0 432.9 370.9 C429.5 371.9 426.3 372.4 422.5 372.4 C418.6 372.4 414.1 371.9 409.9 370.9 C405.7 370.0 401.2 368.6 397.4 366.7 C393.5 364.8 390.1 362.2 386.9 359.4 C383.8 356.6 380.7 353.5 378.6 350.0 C376.4 346.5 374.5 342.5 373.9 338.5z"/></clipPath>
<path d="M373.9 338.5 C373.4 334.5 374.3 329.9 375.4 325.9 C376.5 321.9 378.4 317.9 380.6 314.4 C382.9 310.9 385.9 307.8 389.0 305.0 C392.2 302.2 395.6 299.9 399.5 297.7 C403.3 295.5 407.8 293.4 412.0 292.0 C416.2 290.6 420.4 289.8 424.6 289.3 C428.8 288.8 433.3 288.6 437.1 288.9 C441.0 289.3 444.5 290.1 447.6 291.4 C450.7 292.7 453.5 294.4 456.0 296.6 C458.4 298.9 460.7 301.9 462.2 305.0 C463.8 308.2 464.7 311.6 465.4 315.5 C466.0 319.3 466.2 323.8 466.0 328.0 C465.8 332.2 465.3 336.7 464.3 340.6 C463.4 344.4 462.1 347.7 460.1 351.0 C458.2 354.4 455.6 357.8 452.8 360.5 C450.0 363.1 446.7 365.0 443.4 366.7 C440.1 368.5 436.4 370.0 432.9 370.9 C429.5 371.9 426.3 372.4 422.5 372.4 C418.6 372.4 414.1 371.9 409.9 370.9 C405.7 370.0 401.2 368.6 397.4 366.7 C393.5 364.8 390.1 362.2 386.9 359.4 C383.8 356.6 380.7 353.5 378.6 350.0 C376.4 346.5 374.5 342.5 373.9 338.5z" fill="url(#hot3)" stroke="#c01818" stroke-width="0.5"/>
<g clip-path="url(#cp3)"><path d="M373.9 338.5 C373.4 334.5 374.3 329.9 375.4 325.9 C376.5 321.9 378.4 317.9 380.6 314.4 C382.9 310.9 385.9 307.8 389.0 305.0 C392.2 302.2 395.6 299.9 399.5 297.7 C403.3 295.5 407.8 293.4 412.0 292.0 C416.2 290.6 420.4 289.8 424.6 289.3 C428.8 288.8 433.3 288.6 437.1 288.9 C441.0 289.3 444.5 290.1 447.6 291.4 C450.7 292.7 453.5 294.4 456.0 296.6 C458.4 298.9 460.7 301.9 462.2 305.0 C463.8 308.2 464.7 311.6 465.4 315.5 C466.0 319.3 466.2 323.8 466.0 328.0 C465.8 332.2 465.3 336.7 464.3 340.6 C463.4 344.4 462.1 347.7 460.1 351.0 C458.2 354.4 455.6 357.8 452.8 360.5 C450.0 363.1 446.7 365.0 443.4 366.7 C440.1 368.5 436.4 370.0 432.9 370.9 C429.5 371.9 426.3 372.4 422.5 372.4 C418.6 372.4 414.1 371.9 409.9 370.9 C405.7 370.0 401.2 368.6 397.4 366.7 C393.5 364.8 390.1 362.2 386.9 359.4 C383.8 356.6 380.7 353.5 378.6 350.0 C376.4 346.5 374.5 342.5 373.9 338.5z" fill="none" stroke="#ee2414" stroke-width="4.5" filter="url(#bl)" opacity="0.85"/></g>
<ellipse cx="450" cy="335.5" rx="6.5" ry="14" fill="url(#dimple)"/>
<ellipse cx="435" cy="300.5" rx="14" ry="5" fill="url(#shade)" transform="rotate(8 435 300.5)"/>
</g>
<path d="M124.6 321.0 L124.8 360.0 L125.1 400.0 L125.4 419.5 L127.2 421.9 L129.4 423.6 L130.3 426.8 L132.2 427.3 L132.8 432.0 L133.2 445.0 L133.6 460.0 L134.1 474.0 L134.6 462.0 L135.2 448.0 L135.6 436.0 L135.9 432.5 L136.4 438.0 L137.0 446.0 L137.8 441.0 L138.3 437.0 L139.2 432.2 L140.9 426.5 L143.2 418.4 L144.6 410.0 L146.5 403.0 L146.5 403.0 C146.8 402.2 147.2 400.4 148.0 398.2 C148.8 396.0 150.1 393.2 151.4 389.7 C152.7 386.2 154.4 381.4 156.0 377.3 C157.6 373.2 159.3 369.0 161.0 364.9 C162.7 360.8 164.3 356.5 166.1 352.5 C167.8 348.5 169.6 344.6 171.5 340.9 C173.4 337.1 175.3 333.6 177.4 330.0 C179.5 326.4 181.9 322.6 183.9 319.4 C185.9 316.2 187.9 313.3 189.7 310.7 C191.5 308.1 192.9 306.1 194.5 303.9 C196.1 301.7 197.8 299.7 199.4 297.6 C201.0 295.5 202.6 293.3 204.2 291.3 C205.8 289.3 207.5 287.6 209.1 285.8 C210.7 284.0 212.3 282.2 213.9 280.5 C215.5 278.8 217.2 277.2 218.8 275.6 C220.4 274.0 221.6 272.5 223.3 270.8 C225.0 269.1 227.2 266.9 229.1 265.2 C231.0 263.5 233.0 261.8 234.9 260.4 C236.8 259.0 238.8 257.7 240.7 256.6 C242.6 255.5 244.6 254.7 246.5 254.0 C248.4 253.3 250.6 252.8 252.3 252.6 C254.0 252.4 255.3 252.7 256.5 253.0 C257.7 253.3 258.7 253.9 259.7 254.7 C260.7 255.4 261.6 256.3 262.5 257.5 C263.4 258.7 264.2 260.3 265.0 262.0 C265.8 263.7 266.4 265.6 267.0 267.5 C267.6 269.4 268.3 271.8 268.8 273.5 C269.3 275.2 269.9 276.7 270.2 277.5 C270.5 278.3 270.6 278.6 270.9 278.4 C271.2 278.2 271.4 277.8 271.8 276.5 C272.2 275.2 272.8 272.9 273.3 270.8 C273.8 268.7 274.4 266.1 275.0 264.0 C275.6 261.9 276.2 260.3 276.8 258.5 C277.4 256.7 277.9 254.7 278.5 253.0 C279.1 251.3 279.8 249.8 280.5 248.6 C281.2 247.3 282.1 246.3 283.0 245.5 C283.9 244.7 284.8 244.4 286.0 244.0 C287.2 243.6 289.0 243.6 290.4 243.1 C291.8 242.6 293.3 241.6 294.6 241.0 C295.9 240.4 296.9 239.7 298.0 239.3 C299.1 238.9 299.8 238.6 301.0 238.4 C302.2 238.2 303.6 238.1 305.0 238.1 C306.4 238.1 307.8 238.0 309.5 238.2 C311.2 238.4 313.1 239.2 315.0 239.3 C316.9 239.4 319.2 238.8 320.8 239.0 C322.4 239.2 323.0 240.0 324.3 240.7 C325.6 241.4 327.0 242.9 328.4 243.0 C329.8 243.1 331.0 241.9 332.4 241.3 C333.8 240.7 334.9 239.5 336.5 239.2 C338.1 238.9 339.7 239.2 341.7 239.5 C343.7 239.8 346.6 240.5 348.7 240.7 C350.8 240.9 352.9 241.0 354.5 240.7 C356.1 240.4 357.2 239.7 358.6 239.0 C360.0 238.3 361.2 237.1 362.7 236.8 C364.1 236.5 365.8 237.0 367.3 237.2 C368.9 237.4 370.4 238.2 372.0 238.2 C373.6 238.2 375.0 237.5 377.0 237.4 C379.0 237.3 381.7 237.6 384.0 237.8 C386.3 238.0 388.7 238.5 391.0 238.7 C393.3 238.8 395.7 238.8 398.0 238.7 C400.3 238.6 402.6 238.2 404.9 238.0 C407.2 237.8 409.6 237.8 411.9 237.8 C414.2 237.8 417.6 237.8 418.8 237.8 L420.2 236.9 L421.0 238.8 L421.8 236.4 L422.6 239.0 L423.4 237.2 L424.2 238.0" fill="none" stroke="#000" stroke-width="2.1" stroke-linejoin="round"/>
<path d="M133.2 428 L134 471 M135.9 434 L135 463 M131.6 428 L133 452" fill="none" stroke="#000" stroke-width="2.2"/>
<path d="M125.3 335.0 L125.3 344.0" fill="none" stroke="#e8121c" stroke-width="2.4"/>
<path d="M125.3 363.6 L125.3 370.0" fill="none" stroke="#e8121c" stroke-width="2.4"/>
<path d="M125.3 385.4 L125.3 389.8" fill="none" stroke="#e8121c" stroke-width="2.4"/>
<path d="M125.4 409.0 L125.4 416.6" fill="none" stroke="#e8121c" stroke-width="2.4"/>
<path d="M130.3 431.0 L130.3 439.0" fill="none" stroke="#e8121c" stroke-width="2.4"/>
<path d="M132.6 438.0 L133.3 444.5" fill="none" stroke="#e8121c" stroke-width="2.4"/>
<path d="M134.1 442.0 L134.9 448.2" fill="none" stroke="#e8121c" stroke-width="2.4"/>
<path d="M136.5 446.0 L136.5 450.5" fill="none" stroke="#e8121c" stroke-width="2.4"/>
<path d="M140.3 438.5 L140.3 447.0" fill="none" stroke="#e8121c" stroke-width="2.4"/>
<path d="M134.0 461.4 L134.0 467.7" fill="none" stroke="#e8121c" stroke-width="2.4"/>
<path d="M137.4 461.4 L137.4 467.7" fill="none" stroke="#e8121c" stroke-width="2.4"/>
<path d="M145.4 417.3 L145.6 423.0" fill="none" stroke="#e8121c" stroke-width="2.4"/>
<path d="M150.7 402.5 L151.9 396.0" fill="none" stroke="#e8121c" stroke-width="2.4"/>
<path d="M150.6 402.1 L153.7 393.6" fill="none" stroke="#e8121c" stroke-width="2.4"/>
<path d="M158.8 380.4 L163.0 371.9" fill="none" stroke="#e8121c" stroke-width="2.4"/>
<path d="M170.0 358.7 L175.4 350.2" fill="none" stroke="#e8121c" stroke-width="2.4"/>
<path d="M182.6 337.8 L188.3 329.8" fill="none" stroke="#e8121c" stroke-width="2.4"/>
<path d="M197.0 318.0 L203.8 311.5" fill="none" stroke="#e8121c" stroke-width="2.4"/>
<path d="M213.0 300.2 L220.3 294.1" fill="none" stroke="#e8121c" stroke-width="2.4"/>
<path d="M230.8 284.4 C231.5 283.9 233.6 282.3 235.0 281.4 C236.4 280.5 238.6 279.2 239.3 278.8" fill="none" stroke="#e8121c" stroke-width="2.4"/>
<path d="M251.1 270.5 C251.9 270.1 254.3 268.7 256.0 267.8 C257.7 266.9 260.3 265.6 261.2 265.2" fill="none" stroke="#e8121c" stroke-width="2.4"/>
<path d="M273.3 259.5 C274.1 259.3 276.2 258.8 278.0 258.5 C279.8 258.2 283.0 258.1 284.0 258.0" fill="none" stroke="#e8121c" stroke-width="2.4"/>
<path d="M296.8 256.6 C297.5 256.6 299.4 256.6 301.0 256.7 C302.6 256.8 305.5 257.3 306.4 257.4" fill="none" stroke="#e8121c" stroke-width="2.4"/>
<path d="M320.2 262.8 C320.7 262.7 322.1 262.6 323.0 262.2 C323.9 261.8 324.8 261.2 325.5 260.6 C326.2 260.0 327.1 258.9 327.4 258.5" fill="none" stroke="#e8121c" stroke-width="2.4"/>
<path d="M335.7 247.1 C336.4 246.6 338.5 244.8 340.0 243.8 C341.5 242.8 343.9 241.7 344.7 241.3" fill="none" stroke="#e8121c" stroke-width="2.4"/>
<path d="M359.8 241.9 C360.5 241.6 362.6 240.5 364.0 239.8 C365.4 239.2 367.8 238.3 368.5 238.0" fill="none" stroke="#e8121c" stroke-width="2.4"/>
<path d="M382.2 236.4 L391.5 239.9" fill="none" stroke="#e8121c" stroke-width="2.4"/>
<path d="M405.5 238.0 L414.2 240.7" fill="none" stroke="#e8121c" stroke-width="2.4"/>
<path d="M423.2 243.3 L423.8 243.9" fill="none" stroke="#e8121c" stroke-width="2.4"/>
<rect x="124.3" y="331.0" width="2" height="2" fill="#1418f0"/>
<rect x="124.3" y="345.5" width="2" height="2" fill="#1418f0"/>
<rect x="124.3" y="361.0" width="2" height="2" fill="#1418f0"/>
<rect x="124.3" y="374.6" width="2" height="2" fill="#1418f0"/>
<rect x="124.3" y="389.0" width="2" height="2" fill="#1418f0"/>
<rect x="124.4" y="403.3" width="2" height="2" fill="#1418f0"/>
<rect x="124.4" y="418.0" width="2" height="2" fill="#1418f0"/>
<rect x="128.4" y="428.9" width="2" height="2" fill="#1418f0"/>
<rect x="131.3" y="436.9" width="2" height="2" fill="#1418f0"/>
<rect x="135.3" y="440.9" width="2" height="2" fill="#1418f0"/>
<rect x="137.6" y="442.1" width="2" height="2" fill="#1418f0"/>
<rect x="139.3" y="428.3" width="2" height="2" fill="#1418f0"/>
<rect x="132.5" y="451.2" width="2" height="2" fill="#1418f0"/>
<rect x="136.5" y="455.2" width="2" height="2" fill="#1418f0"/>
<rect x="133.6" y="457.5" width="2" height="2" fill="#1418f0"/>
<rect x="132.5" y="465.5" width="2" height="2" fill="#1418f0"/>
<rect x="133.0" y="470.1" width="2" height="2" fill="#1418f0"/>
<rect x="133.0" y="473.2" width="2" height="2" fill="#1418f0"/>
<rect x="142.2" y="413.8" width="2" height="2" fill="#1418f0"/>
<rect x="146.1" y="401.7" width="2" height="2" fill="#1418f0"/>
<rect x="150.4" y="388.4" width="2" height="2" fill="#1418f0"/>
<rect x="155.8" y="375.0" width="2" height="2" fill="#1418f0"/>
<rect x="160.9" y="362.0" width="2" height="2" fill="#1418f0"/>
<rect x="167.1" y="349.6" width="2" height="2" fill="#1418f0"/>
<rect x="173.9" y="336.3" width="2" height="2" fill="#1418f0"/>
<rect x="181.3" y="324.4" width="2" height="2" fill="#1418f0"/>
<rect x="190.1" y="313.1" width="2" height="2" fill="#1418f0"/>
<rect x="198.9" y="301.9" width="2" height="2" fill="#1418f0"/>
<rect x="207.9" y="290.9" width="2" height="2" fill="#1418f0"/>
<rect x="217.7" y="280.4" width="2" height="2" fill="#1418f0"/>
<rect x="228.0" y="270.3" width="2" height="2" fill="#1418f0"/>
<rect x="239.7" y="261.4" width="2" height="2" fill="#1418f0"/>
<rect x="253.1" y="254.8" width="2" height="2" fill="#1418f0"/>
<rect x="267.0" y="253.2" width="2" height="2" fill="#1418f0"/>
<rect x="274.9" y="265.6" width="2" height="2" fill="#1418f0"/>
<rect x="280.8" y="255.6" width="2" height="2" fill="#1418f0"/>
<rect x="286.8" y="243.6" width="2" height="2" fill="#1418f0"/>
<rect x="300.4" y="241.0" width="2" height="2" fill="#1418f0"/>
<rect x="314.6" y="242.1" width="2" height="2" fill="#1418f0"/>
<rect x="327.7" y="244.9" width="2" height="2" fill="#1418f0"/>
<rect x="338.4" y="243.8" width="2" height="2" fill="#1418f0"/>
<rect x="348.9" y="234.2" width="2" height="2" fill="#1418f0"/>
<rect x="361.7" y="234.2" width="2" height="2" fill="#1418f0"/>
<rect x="376.0" y="235.6" width="2" height="2" fill="#1418f0"/>
<rect x="389.7" y="236.6" width="2" height="2" fill="#1418f0"/>
<rect x="403.9" y="237.0" width="2" height="2" fill="#1418f0"/>
<rect x="415.5" y="238.5" width="2" height="2" fill="#1418f0"/>
<rect x="150.8" y="207.5" width="8.4" height="108.00" fill="url(#cb)" stroke="#4a4a4a" stroke-width="0.5"/>
<line x1="145.40" y1="207.50" x2="150.8" y2="207.50" stroke="#444" stroke-width="0.5"/>
<text x="143.60" y="209.25" text-anchor="end" class="cbl">-26.6</text>
<line x1="148.20" y1="210.78" x2="150.8" y2="210.78" stroke="#555" stroke-width="0.4"/>
<line x1="145.40" y1="214.06" x2="150.8" y2="214.06" stroke="#444" stroke-width="0.5"/>
<text x="143.60" y="215.81" text-anchor="end" class="cbl">-29.1</text>
<line x1="148.20" y1="217.34" x2="150.8" y2="217.34" stroke="#555" stroke-width="0.4"/>
<line x1="145.40" y1="220.61" x2="150.8" y2="220.61" stroke="#444" stroke-width="0.5"/>
<text x="143.60" y="222.36" text-anchor="end" class="cbl">-31.5</text>
<line x1="148.20" y1="223.89" x2="150.8" y2="223.89" stroke="#555" stroke-width="0.4"/>
<line x1="145.40" y1="227.17" x2="150.8" y2="227.17" stroke="#444" stroke-width="0.5"/>
<text x="143.60" y="228.92" text-anchor="end" class="cbl">-33.9</text>
<line x1="148.20" y1="230.45" x2="150.8" y2="230.45" stroke="#555" stroke-width="0.4"/>
<line x1="145.40" y1="233.73" x2="150.8" y2="233.73" stroke="#444" stroke-width="0.5"/>
<text x="143.60" y="235.48" text-anchor="end" class="cbl">-36.3</text>
<line x1="148.20" y1="237.01" x2="150.8" y2="237.01" stroke="#555" stroke-width="0.4"/>
<line x1="145.40" y1="240.29" x2="150.8" y2="240.29" stroke="#444" stroke-width="0.5"/>
<text x="143.60" y="242.04" text-anchor="end" class="cbl">-38.8</text>
<line x1="148.20" y1="243.57" x2="150.8" y2="243.57" stroke="#555" stroke-width="0.4"/>
<line x1="145.40" y1="246.84" x2="150.8" y2="246.84" stroke="#444" stroke-width="0.5"/>
<text x="143.60" y="248.59" text-anchor="end" class="cbl">-41.2</text>
<line x1="148.20" y1="250.12" x2="150.8" y2="250.12" stroke="#555" stroke-width="0.4"/>
<line x1="145.40" y1="253.40" x2="150.8" y2="253.40" stroke="#444" stroke-width="0.5"/>
<text x="143.60" y="255.15" text-anchor="end" class="cbl">-43.6</text>
<line x1="148.20" y1="256.68" x2="150.8" y2="256.68" stroke="#555" stroke-width="0.4"/>
<line x1="145.40" y1="259.96" x2="150.8" y2="259.96" stroke="#444" stroke-width="0.5"/>
<text x="143.60" y="261.71" text-anchor="end" class="cbl">-46</text>
<line x1="148.20" y1="263.24" x2="150.8" y2="263.24" stroke="#555" stroke-width="0.4"/>
<line x1="145.40" y1="266.52" x2="150.8" y2="266.52" stroke="#444" stroke-width="0.5"/>
<text x="143.60" y="268.27" text-anchor="end" class="cbl">-48.5</text>
<line x1="148.20" y1="269.80" x2="150.8" y2="269.80" stroke="#555" stroke-width="0.4"/>
<line x1="145.40" y1="273.07" x2="150.8" y2="273.07" stroke="#444" stroke-width="0.5"/>
<text x="143.60" y="274.82" text-anchor="end" class="cbl">-50.9</text>
<line x1="148.20" y1="276.35" x2="150.8" y2="276.35" stroke="#555" stroke-width="0.4"/>
<line x1="145.40" y1="279.63" x2="150.8" y2="279.63" stroke="#444" stroke-width="0.5"/>
<text x="143.60" y="281.38" text-anchor="end" class="cbl">-53.3</text>
<line x1="148.20" y1="282.91" x2="150.8" y2="282.91" stroke="#555" stroke-width="0.4"/>
<line x1="145.40" y1="286.19" x2="150.8" y2="286.19" stroke="#444" stroke-width="0.5"/>
<text x="143.60" y="287.94" text-anchor="end" class="cbl">-55.7</text>
<line x1="148.20" y1="289.47" x2="150.8" y2="289.47" stroke="#555" stroke-width="0.4"/>
<line x1="145.40" y1="292.75" x2="150.8" y2="292.75" stroke="#444" stroke-width="0.5"/>
<text x="143.60" y="294.50" text-anchor="end" class="cbl">-58.2</text>
<line x1="148.20" y1="296.02" x2="150.8" y2="296.02" stroke="#555" stroke-width="0.4"/>
<line x1="145.40" y1="299.30" x2="150.8" y2="299.30" stroke="#444" stroke-width="0.5"/>
<text x="143.60" y="301.05" text-anchor="end" class="cbl">-60.6</text>
<line x1="148.20" y1="302.58" x2="150.8" y2="302.58" stroke="#555" stroke-width="0.4"/>
<line x1="145.40" y1="305.86" x2="150.8" y2="305.86" stroke="#444" stroke-width="0.5"/>
<text x="143.60" y="307.61" text-anchor="end" class="cbl">-63</text>
<line x1="148.20" y1="309.07" x2="150.8" y2="309.07" stroke="#555" stroke-width="0.4"/>
<line x1="148.20" y1="312.29" x2="150.8" y2="312.29" stroke="#555" stroke-width="0.4"/>
<line x1="145.40" y1="315.50" x2="150.8" y2="315.50" stroke="#444" stroke-width="0.5"/>
<text x="143.60" y="317.25" text-anchor="end" class="cbl">-66.6</text>
<path d="M150.50 207.50 l-3.4 -1.7 h-1.6 v3.4 h1.6z" fill="#000"/>
<path d="M150.50 259.96 l-3.4 -1.7 h-1.6 v3.4 h1.6z" fill="#000"/>
<text x="127" y="201.4" class="cbt">dB(m^2)</text>
<rect x="296.2" y="347.7" width="8.6" height="102.50" fill="url(#cb)" stroke="#4a4a4a" stroke-width="0.5"/>
<line x1="290.80" y1="347.70" x2="296.2" y2="347.70" stroke="#444" stroke-width="0.5"/>
<text x="289.00" y="349.45" text-anchor="end" class="cbl">-25.7</text>
<line x1="293.60" y1="350.81" x2="296.2" y2="350.81" stroke="#555" stroke-width="0.4"/>
<line x1="290.80" y1="353.92" x2="296.2" y2="353.92" stroke="#444" stroke-width="0.5"/>
<text x="289.00" y="355.67" text-anchor="end" class="cbl">-28.1</text>
<line x1="293.60" y1="357.04" x2="296.2" y2="357.04" stroke="#555" stroke-width="0.4"/>
<line x1="290.80" y1="360.15" x2="296.2" y2="360.15" stroke="#444" stroke-width="0.5"/>
<text x="289.00" y="361.90" text-anchor="end" class="cbl">-30.6</text>
<line x1="293.60" y1="363.26" x2="296.2" y2="363.26" stroke="#555" stroke-width="0.4"/>
<line x1="290.80" y1="366.37" x2="296.2" y2="366.37" stroke="#444" stroke-width="0.5"/>
<text x="289.00" y="368.12" text-anchor="end" class="cbl">-33</text>
<line x1="293.60" y1="369.48" x2="296.2" y2="369.48" stroke="#555" stroke-width="0.4"/>
<line x1="290.80" y1="372.59" x2="296.2" y2="372.59" stroke="#444" stroke-width="0.5"/>
<text x="289.00" y="374.34" text-anchor="end" class="cbl">-35.4</text>
<line x1="293.60" y1="375.71" x2="296.2" y2="375.71" stroke="#555" stroke-width="0.4"/>
<line x1="290.80" y1="378.82" x2="296.2" y2="378.82" stroke="#444" stroke-width="0.5"/>
<text x="289.00" y="380.57" text-anchor="end" class="cbl">-37.8</text>
<line x1="293.60" y1="381.93" x2="296.2" y2="381.93" stroke="#555" stroke-width="0.4"/>
<line x1="290.80" y1="385.04" x2="296.2" y2="385.04" stroke="#444" stroke-width="0.5"/>
<text x="289.00" y="386.79" text-anchor="end" class="cbl">-40.3</text>
<line x1="293.60" y1="388.15" x2="296.2" y2="388.15" stroke="#555" stroke-width="0.4"/>
<line x1="290.80" y1="391.26" x2="296.2" y2="391.26" stroke="#444" stroke-width="0.5"/>
<text x="289.00" y="393.01" text-anchor="end" class="cbl">-42.7</text>
<line x1="293.60" y1="394.38" x2="296.2" y2="394.38" stroke="#555" stroke-width="0.4"/>
<line x1="290.80" y1="397.49" x2="296.2" y2="397.49" stroke="#444" stroke-width="0.5"/>
<text x="289.00" y="399.24" text-anchor="end" class="cbl">-45.1</text>
<line x1="293.60" y1="400.60" x2="296.2" y2="400.60" stroke="#555" stroke-width="0.4"/>
<line x1="290.80" y1="403.71" x2="296.2" y2="403.71" stroke="#444" stroke-width="0.5"/>
<text x="289.00" y="405.46" text-anchor="end" class="cbl">-47.5</text>
<line x1="293.60" y1="406.82" x2="296.2" y2="406.82" stroke="#555" stroke-width="0.4"/>
<line x1="290.80" y1="409.93" x2="296.2" y2="409.93" stroke="#444" stroke-width="0.5"/>
<text x="289.00" y="411.68" text-anchor="end" class="cbl">-50</text>
<line x1="293.60" y1="413.05" x2="296.2" y2="413.05" stroke="#555" stroke-width="0.4"/>
<line x1="290.80" y1="416.16" x2="296.2" y2="416.16" stroke="#444" stroke-width="0.5"/>
<text x="289.00" y="417.91" text-anchor="end" class="cbl">-52.4</text>
<line x1="293.60" y1="419.27" x2="296.2" y2="419.27" stroke="#555" stroke-width="0.4"/>
<line x1="290.80" y1="422.38" x2="296.2" y2="422.38" stroke="#444" stroke-width="0.5"/>
<text x="289.00" y="424.13" text-anchor="end" class="cbl">-54.8</text>
<line x1="293.60" y1="425.49" x2="296.2" y2="425.49" stroke="#555" stroke-width="0.4"/>
<line x1="290.80" y1="428.60" x2="296.2" y2="428.60" stroke="#444" stroke-width="0.5"/>
<text x="289.00" y="430.35" text-anchor="end" class="cbl">-57.2</text>
<line x1="293.60" y1="431.72" x2="296.2" y2="431.72" stroke="#555" stroke-width="0.4"/>
<line x1="290.80" y1="434.83" x2="296.2" y2="434.83" stroke="#444" stroke-width="0.5"/>
<text x="289.00" y="436.58" text-anchor="end" class="cbl">-59.7</text>
<line x1="293.60" y1="437.94" x2="296.2" y2="437.94" stroke="#555" stroke-width="0.4"/>
<line x1="290.80" y1="441.05" x2="296.2" y2="441.05" stroke="#444" stroke-width="0.5"/>
<text x="289.00" y="442.80" text-anchor="end" class="cbl">-62.1</text>
<line x1="293.60" y1="444.10" x2="296.2" y2="444.10" stroke="#555" stroke-width="0.4"/>
<line x1="293.60" y1="447.15" x2="296.2" y2="447.15" stroke="#555" stroke-width="0.4"/>
<line x1="290.80" y1="450.20" x2="296.2" y2="450.20" stroke="#444" stroke-width="0.5"/>
<text x="289.00" y="451.95" text-anchor="end" class="cbl">-65.7</text>
<path d="M295.90 347.70 l-3.4 -1.7 h-1.6 v3.4 h1.6z" fill="#000"/>
<path d="M295.90 409.93 l-3.4 -1.7 h-1.6 v3.4 h1.6z" fill="#000"/>
<text x="274.3" y="341.2" class="cbt">dB(m^2)</text>
<rect x="357.9" y="292.7" width="9.0" height="108.60" fill="url(#cb)" stroke="#4a4a4a" stroke-width="0.5"/>
<line x1="352.50" y1="292.70" x2="357.9" y2="292.70" stroke="#444" stroke-width="0.5"/>
<text x="350.70" y="294.45" text-anchor="end" class="cbl">-26.3</text>
<line x1="355.30" y1="296.00" x2="357.9" y2="296.00" stroke="#555" stroke-width="0.4"/>
<line x1="352.50" y1="299.29" x2="357.9" y2="299.29" stroke="#444" stroke-width="0.5"/>
<text x="350.70" y="301.04" text-anchor="end" class="cbl">-28.7</text>
<line x1="355.30" y1="302.59" x2="357.9" y2="302.59" stroke="#555" stroke-width="0.4"/>
<line x1="352.50" y1="305.89" x2="357.9" y2="305.89" stroke="#444" stroke-width="0.5"/>
<text x="350.70" y="307.64" text-anchor="end" class="cbl">-31.2</text>
<line x1="355.30" y1="309.18" x2="357.9" y2="309.18" stroke="#555" stroke-width="0.4"/>
<line x1="352.50" y1="312.48" x2="357.9" y2="312.48" stroke="#444" stroke-width="0.5"/>
<text x="350.70" y="314.23" text-anchor="end" class="cbl">-33.6</text>
<line x1="355.30" y1="315.78" x2="357.9" y2="315.78" stroke="#555" stroke-width="0.4"/>
<line x1="352.50" y1="319.08" x2="357.9" y2="319.08" stroke="#444" stroke-width="0.5"/>
<text x="350.70" y="320.83" text-anchor="end" class="cbl">-36</text>
<line x1="355.30" y1="322.37" x2="357.9" y2="322.37" stroke="#555" stroke-width="0.4"/>
<line x1="352.50" y1="325.67" x2="357.9" y2="325.67" stroke="#444" stroke-width="0.5"/>
<text x="350.70" y="327.42" text-anchor="end" class="cbl">-38.4</text>
<line x1="355.30" y1="328.97" x2="357.9" y2="328.97" stroke="#555" stroke-width="0.4"/>
<line x1="352.50" y1="332.26" x2="357.9" y2="332.26" stroke="#444" stroke-width="0.5"/>
<text x="350.70" y="334.01" text-anchor="end" class="cbl">-40.9</text>
<line x1="355.30" y1="335.56" x2="357.9" y2="335.56" stroke="#555" stroke-width="0.4"/>
<line x1="352.50" y1="338.86" x2="357.9" y2="338.86" stroke="#444" stroke-width="0.5"/>
<text x="350.70" y="340.61" text-anchor="end" class="cbl">-43.3</text>
<line x1="355.30" y1="342.15" x2="357.9" y2="342.15" stroke="#555" stroke-width="0.4"/>
<line x1="352.50" y1="345.45" x2="357.9" y2="345.45" stroke="#444" stroke-width="0.5"/>
<text x="350.70" y="347.20" text-anchor="end" class="cbl">-45.7</text>
<line x1="355.30" y1="348.75" x2="357.9" y2="348.75" stroke="#555" stroke-width="0.4"/>
<line x1="352.50" y1="352.04" x2="357.9" y2="352.04" stroke="#444" stroke-width="0.5"/>
<text x="350.70" y="353.79" text-anchor="end" class="cbl">-48.1</text>
<line x1="355.30" y1="355.34" x2="357.9" y2="355.34" stroke="#555" stroke-width="0.4"/>
<line x1="352.50" y1="358.64" x2="357.9" y2="358.64" stroke="#444" stroke-width="0.5"/>
<text x="350.70" y="360.39" text-anchor="end" class="cbl">-50.6</text>
<line x1="355.30" y1="361.93" x2="357.9" y2="361.93" stroke="#555" stroke-width="0.4"/>
<line x1="352.50" y1="365.23" x2="357.9" y2="365.23" stroke="#444" stroke-width="0.5"/>
<text x="350.70" y="366.98" text-anchor="end" class="cbl">-53</text>
<line x1="355.30" y1="368.53" x2="357.9" y2="368.53" stroke="#555" stroke-width="0.4"/>
<line x1="352.50" y1="371.83" x2="357.9" y2="371.83" stroke="#444" stroke-width="0.5"/>
<text x="350.70" y="373.58" text-anchor="end" class="cbl">-55.4</text>
<line x1="355.30" y1="375.12" x2="357.9" y2="375.12" stroke="#555" stroke-width="0.4"/>
<line x1="352.50" y1="378.42" x2="357.9" y2="378.42" stroke="#444" stroke-width="0.5"/>
<text x="350.70" y="380.17" text-anchor="end" class="cbl">-57.8</text>
<line x1="355.30" y1="381.72" x2="357.9" y2="381.72" stroke="#555" stroke-width="0.4"/>
<line x1="352.50" y1="385.01" x2="357.9" y2="385.01" stroke="#444" stroke-width="0.5"/>
<text x="350.70" y="386.76" text-anchor="end" class="cbl">-60.3</text>
<line x1="355.30" y1="388.31" x2="357.9" y2="388.31" stroke="#555" stroke-width="0.4"/>
<line x1="352.50" y1="391.61" x2="357.9" y2="391.61" stroke="#444" stroke-width="0.5"/>
<text x="350.70" y="393.36" text-anchor="end" class="cbl">-62.7</text>
<line x1="355.30" y1="394.84" x2="357.9" y2="394.84" stroke="#555" stroke-width="0.4"/>
<line x1="355.30" y1="398.07" x2="357.9" y2="398.07" stroke="#555" stroke-width="0.4"/>
<line x1="352.50" y1="401.30" x2="357.9" y2="401.30" stroke="#444" stroke-width="0.5"/>
<text x="350.70" y="403.05" text-anchor="end" class="cbl">-66.3</text>
<path d="M357.60 292.70 l-3.4 -1.7 h-1.6 v3.4 h1.6z" fill="#000"/>
<path d="M357.60 345.45 l-3.4 -1.7 h-1.6 v3.4 h1.6z" fill="#000"/>
<text x="335.2" y="286.2" class="cbt">dB(m^2)</text>
<line x1="176.3" y1="286.8" x2="170.7" y2="290.4" stroke="#1a1aa8" stroke-width="2.5" stroke-linecap="round"/>
<line x1="176.3" y1="286.8" x2="184.38" y2="288.60" stroke="#d81c28" stroke-width="2"/>
<path d="M187.50 289.30 L183.96 290.46 L184.79 286.75z" fill="#b81420"/>
<line x1="176.3" y1="287.3" x2="176.3" y2="276" stroke="#18cc20" stroke-width="2"/>
<path d="M176.3 272 l-1.9 5 h3.8z" fill="#18cc20"/>
<text x="176.3" y="270.40" text-anchor="middle" class="tl" fill="#28b838">y</text>
<text x="189.30" y="291.90" class="tl" fill="#f04050">x</text>
<text x="165.70" y="294.40" class="tl" fill="#5858f0">z</text>
<line x1="159.9" y1="442.1" x2="154.8" y2="445.7" stroke="#1a1aa8" stroke-width="2.5" stroke-linecap="round"/>
<line x1="159.9" y1="442.1" x2="167.08" y2="443.77" stroke="#d81c28" stroke-width="2"/>
<path d="M170.20 444.50 L166.65 445.62 L167.51 441.92z" fill="#b81420"/>
<line x1="159.9" y1="442.6" x2="159.9" y2="430.5" stroke="#18cc20" stroke-width="2"/>
<path d="M159.9 426.5 l-1.9 5 h3.8z" fill="#18cc20"/>
<text x="159.9" y="424.90" text-anchor="middle" class="tl" fill="#28b838">y</text>
<text x="172.00" y="447.10" class="tl" fill="#f04050">x</text>
<text x="149.80" y="449.70" class="tl" fill="#5858f0">z</text>
<line x1="401.8" y1="412.4" x2="394.5" y2="416.2" stroke="#1a1aa8" stroke-width="2.5" stroke-linecap="round"/>
<line x1="401.8" y1="412.4" x2="411.14" y2="413.97" stroke="#d81c28" stroke-width="2"/>
<path d="M414.30 414.50 L410.83 415.84 L411.46 412.10z" fill="#b81420"/>
<line x1="401.8" y1="412.9" x2="401.8" y2="400.5" stroke="#18cc20" stroke-width="2"/>
<path d="M401.8 396.5 l-1.9 5 h3.8z" fill="#18cc20"/>
<text x="401.8" y="394.90" text-anchor="middle" class="tl" fill="#28b838">y</text>
<text x="416.10" y="417.10" class="tl" fill="#f04050">x</text>
<text x="389.50" y="420.20" class="tl" fill="#5858f0">z</text>
<text x="241.5" y="222.7" class="cs" fill="#000">Coding Sequence 1</text>
<text x="144.9" y="470.3" class="cs" fill="#e8121c">Coding Sequence 2</text>
<text x="335.9" y="267.3" class="cs" fill="#1418f0">Coding Sequence 3</text>
</svg>
</body></html>
